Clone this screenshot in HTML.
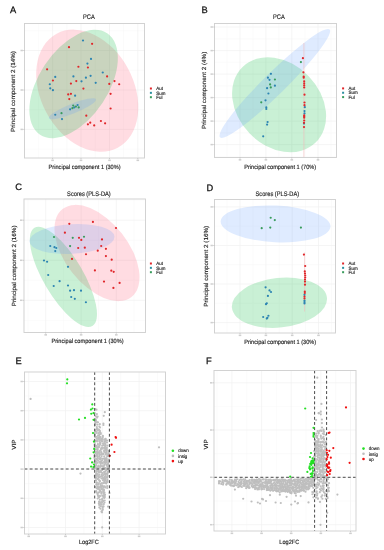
<!DOCTYPE html>
<html><head><meta charset="utf-8"><style>
html,body{margin:0;padding:0;background:#fff;}
svg{display:block;will-change:transform;}
</style></head><body>
<svg width="384" height="550" viewBox="0 0 384 550" font-family="Liberation Sans, sans-serif" text-rendering="geometricPrecision">
<g>
<rect width="384" height="550" fill="#fff"/>
<rect x="24.5" y="23.5" width="120.0" height="134.5" fill="#fff"/>
<line x1="38.40" y1="23.5" x2="38.40" y2="158.0" stroke="#f6f6f6" stroke-width="0.5"/>
<line x1="66.80" y1="23.5" x2="66.80" y2="158.0" stroke="#f6f6f6" stroke-width="0.5"/>
<line x1="95.30" y1="23.5" x2="95.30" y2="158.0" stroke="#f6f6f6" stroke-width="0.5"/>
<line x1="123.60" y1="23.5" x2="123.60" y2="158.0" stroke="#f6f6f6" stroke-width="0.5"/>
<line x1="24.5" y1="30.75" x2="144.5" y2="30.75" stroke="#f6f6f6" stroke-width="0.5"/>
<line x1="24.5" y1="70.25" x2="144.5" y2="70.25" stroke="#f6f6f6" stroke-width="0.5"/>
<line x1="24.5" y1="109.65" x2="144.5" y2="109.65" stroke="#f6f6f6" stroke-width="0.5"/>
<line x1="24.5" y1="149.15" x2="144.5" y2="149.15" stroke="#f6f6f6" stroke-width="0.5"/>
<line x1="52.60" y1="23.5" x2="52.60" y2="158.0" stroke="#f0f0f0" stroke-width="0.7"/>
<line x1="81.00" y1="23.5" x2="81.00" y2="158.0" stroke="#f0f0f0" stroke-width="0.7"/>
<line x1="109.50" y1="23.5" x2="109.50" y2="158.0" stroke="#f0f0f0" stroke-width="0.7"/>
<line x1="137.80" y1="23.5" x2="137.80" y2="158.0" stroke="#f0f0f0" stroke-width="0.7"/>
<line x1="24.5" y1="50.50" x2="144.5" y2="50.50" stroke="#f0f0f0" stroke-width="0.7"/>
<line x1="24.5" y1="90.00" x2="144.5" y2="90.00" stroke="#f0f0f0" stroke-width="0.7"/>
<line x1="24.5" y1="129.40" x2="144.5" y2="129.40" stroke="#f0f0f0" stroke-width="0.7"/>
<g>
<ellipse cx="87.23" cy="90.68" rx="46.4" ry="64.66" transform="rotate(151.81 87.23 90.68)" fill="#FF5A78" fill-opacity="0.21"/>
<ellipse cx="73.6" cy="84.0" rx="60.8" ry="34.6" transform="rotate(-56.5 73.6 84.0)" fill="#00BA38" fill-opacity="0.21"/>
<ellipse cx="72.4" cy="108.7" rx="4.9" ry="25.4" transform="rotate(68.0 72.4 108.7)" fill="#619CFF" fill-opacity="0.2"/>
</g>
<circle cx="69.00" cy="47.20" r="1.1" fill="#e0262a"/>
<circle cx="47.10" cy="69.30" r="1.1" fill="#e0262a"/>
<circle cx="78.40" cy="66.75" r="1.1" fill="#e0262a"/>
<circle cx="52.90" cy="80.50" r="1.1" fill="#e0262a"/>
<circle cx="76.30" cy="81.10" r="1.1" fill="#e0262a"/>
<circle cx="70.90" cy="83.60" r="1.1" fill="#e0262a"/>
<circle cx="83.40" cy="88.60" r="1.1" fill="#e0262a"/>
<circle cx="92.10" cy="43.80" r="1.1" fill="#e0262a"/>
<circle cx="87.90" cy="67.50" r="1.1" fill="#e0262a"/>
<circle cx="107.10" cy="76.40" r="1.1" fill="#e0262a"/>
<circle cx="109.30" cy="83.90" r="1.1" fill="#e0262a"/>
<circle cx="114.50" cy="81.10" r="1.1" fill="#e0262a"/>
<circle cx="119.20" cy="84.25" r="1.1" fill="#e0262a"/>
<circle cx="68.20" cy="94.40" r="1.1" fill="#e0262a"/>
<circle cx="70.90" cy="93.80" r="1.1" fill="#e0262a"/>
<circle cx="69.30" cy="99.10" r="1.1" fill="#e0262a"/>
<circle cx="110.60" cy="93.80" r="1.1" fill="#e0262a"/>
<circle cx="110.60" cy="108.50" r="1.1" fill="#e0262a"/>
<circle cx="86.30" cy="115.70" r="1.1" fill="#e0262a"/>
<circle cx="87.90" cy="124.30" r="1.1" fill="#e0262a"/>
<circle cx="90.25" cy="122.70" r="1.1" fill="#e0262a"/>
<circle cx="94.20" cy="125.40" r="1.1" fill="#e0262a"/>
<circle cx="100.90" cy="121.00" r="1.1" fill="#e0262a"/>
<circle cx="105.10" cy="123.30" r="1.1" fill="#e0262a"/>
<circle cx="83.00" cy="40.50" r="1.1" fill="#2c84b2"/>
<circle cx="55.25" cy="76.90" r="1.1" fill="#2c84b2"/>
<circle cx="73.40" cy="76.40" r="1.1" fill="#2c84b2"/>
<circle cx="81.50" cy="81.30" r="1.1" fill="#2c84b2"/>
<circle cx="49.80" cy="84.25" r="1.1" fill="#2c84b2"/>
<circle cx="50.25" cy="88.30" r="1.1" fill="#2c84b2"/>
<circle cx="52.90" cy="90.20" r="1.1" fill="#2c84b2"/>
<circle cx="91.00" cy="58.90" r="1.1" fill="#2c84b2"/>
<circle cx="87.40" cy="63.60" r="1.1" fill="#2c84b2"/>
<circle cx="102.75" cy="72.50" r="1.1" fill="#2c84b2"/>
<circle cx="90.60" cy="75.80" r="1.1" fill="#2c84b2"/>
<circle cx="85.90" cy="77.70" r="1.1" fill="#2c84b2"/>
<circle cx="95.70" cy="82.80" r="1.1" fill="#2c84b2"/>
<circle cx="75.10" cy="95.70" r="1.1" fill="#2c84b2"/>
<circle cx="77.60" cy="105.00" r="1.1" fill="#2c84b2"/>
<circle cx="70.10" cy="109.30" r="1.1" fill="#2c84b2"/>
<circle cx="74.20" cy="107.40" r="1.1" fill="#2c84b2"/>
<circle cx="55.25" cy="114.75" r="1.1" fill="#2c84b2"/>
<circle cx="62.00" cy="119.10" r="1.1" fill="#2c84b2"/>
<circle cx="73.20" cy="105.50" r="1.1" fill="#389c5c"/>
<circle cx="75.90" cy="106.60" r="1.1" fill="#389c5c"/>
<circle cx="78.70" cy="107.40" r="1.1" fill="#389c5c"/>
<circle cx="72.40" cy="108.20" r="1.1" fill="#389c5c"/>
<circle cx="61.50" cy="113.20" r="1.1" fill="#389c5c"/>
<rect x="24.5" y="23.5" width="120.0" height="134.5" fill="none" stroke="#d0d0d0" stroke-width="0.95"/>
<line x1="52.60" y1="158.0" x2="52.60" y2="159.3" stroke="#aaa" stroke-width="0.5"/>
<rect x="51.30" y="159.6" width="2.6" height="1.5" fill="#cfcfcf"/>
<line x1="81.00" y1="158.0" x2="81.00" y2="159.3" stroke="#aaa" stroke-width="0.5"/>
<rect x="79.70" y="159.6" width="2.6" height="1.5" fill="#cfcfcf"/>
<line x1="109.50" y1="158.0" x2="109.50" y2="159.3" stroke="#aaa" stroke-width="0.5"/>
<rect x="108.20" y="159.6" width="2.6" height="1.5" fill="#cfcfcf"/>
<line x1="137.80" y1="158.0" x2="137.80" y2="159.3" stroke="#aaa" stroke-width="0.5"/>
<rect x="136.50" y="159.6" width="2.6" height="1.5" fill="#cfcfcf"/>
<line x1="23.1" y1="50.50" x2="24.5" y2="50.50" stroke="#aaa" stroke-width="0.5"/>
<rect x="20.50" y="49.75" width="2.4" height="1.5" fill="#cfcfcf"/>
<line x1="23.1" y1="90.00" x2="24.5" y2="90.00" stroke="#aaa" stroke-width="0.5"/>
<rect x="20.50" y="89.25" width="2.4" height="1.5" fill="#cfcfcf"/>
<line x1="23.1" y1="129.40" x2="24.5" y2="129.40" stroke="#aaa" stroke-width="0.5"/>
<rect x="20.50" y="128.65" width="2.4" height="1.5" fill="#cfcfcf"/>
<text x="0" y="0" font-size="9.3" text-anchor="start" fill="#111" stroke="#111" stroke-width="0.25" transform="translate(10.1 12.6) scale(1.0 1)" >A</text>
<text x="0" y="0" font-size="6.6" text-anchor="middle" fill="#222" stroke="#222" stroke-width="0.15" transform="translate(88.9 19.1) scale(0.863 1)" >PCA</text>
<text x="0" y="0" font-size="6.2" text-anchor="middle" fill="#222" stroke="#222" stroke-width="0.15" transform="translate(84.6 168.6) scale(0.906 1)" >Principal component 1 (30%)</text>
<text x="0" y="0" font-size="6.3" text-anchor="middle" fill="#222" stroke="#222" stroke-width="0.15" transform="translate(15.4 91.5) scale(0.94 1) rotate(-90)" >Principal component 2 (14%)</text>
<rect x="149.9" y="87.5" width="2.0" height="2.0" fill="#e0262a"/>
<text x="0" y="0" font-size="4.8" text-anchor="start" fill="#1a1a1a" stroke="#1a1a1a" stroke-width="0.15" transform="translate(156.3 90.2) scale(0.92 1)" >Aut</text>
<rect x="149.9" y="91.85" width="2.0" height="2.0" fill="#2a8fa0"/>
<text x="0" y="0" font-size="4.8" text-anchor="start" fill="#1a1a1a" stroke="#1a1a1a" stroke-width="0.15" transform="translate(156.3 94.55) scale(0.92 1)" >Sum</text>
<rect x="149.9" y="96.2" width="2.0" height="2.0" fill="#389c5c"/>
<text x="0" y="0" font-size="4.8" text-anchor="start" fill="#1a1a1a" stroke="#1a1a1a" stroke-width="0.15" transform="translate(156.3 98.9) scale(0.92 1)" >Ful</text>
<rect x="214.5" y="23.5" width="122.0" height="134.0" fill="#fff"/>
<line x1="227.05" y1="23.5" x2="227.05" y2="157.5" stroke="#f6f6f6" stroke-width="0.5"/>
<line x1="252.95" y1="23.5" x2="252.95" y2="157.5" stroke="#f6f6f6" stroke-width="0.5"/>
<line x1="278.85" y1="23.5" x2="278.85" y2="157.5" stroke="#f6f6f6" stroke-width="0.5"/>
<line x1="305.05" y1="23.5" x2="305.05" y2="157.5" stroke="#f6f6f6" stroke-width="0.5"/>
<line x1="330.95" y1="23.5" x2="330.95" y2="157.5" stroke="#f6f6f6" stroke-width="0.5"/>
<line x1="214.5" y1="38.80" x2="336.5" y2="38.80" stroke="#f6f6f6" stroke-width="0.5"/>
<line x1="214.5" y1="62.30" x2="336.5" y2="62.30" stroke="#f6f6f6" stroke-width="0.5"/>
<line x1="214.5" y1="85.80" x2="336.5" y2="85.80" stroke="#f6f6f6" stroke-width="0.5"/>
<line x1="214.5" y1="109.30" x2="336.5" y2="109.30" stroke="#f6f6f6" stroke-width="0.5"/>
<line x1="214.5" y1="132.80" x2="336.5" y2="132.80" stroke="#f6f6f6" stroke-width="0.5"/>
<line x1="214.5" y1="156.40" x2="336.5" y2="156.40" stroke="#f6f6f6" stroke-width="0.5"/>
<line x1="240.00" y1="23.5" x2="240.00" y2="157.5" stroke="#f0f0f0" stroke-width="0.7"/>
<line x1="265.90" y1="23.5" x2="265.90" y2="157.5" stroke="#f0f0f0" stroke-width="0.7"/>
<line x1="291.80" y1="23.5" x2="291.80" y2="157.5" stroke="#f0f0f0" stroke-width="0.7"/>
<line x1="318.00" y1="23.5" x2="318.00" y2="157.5" stroke="#f0f0f0" stroke-width="0.7"/>
<line x1="214.5" y1="27.00" x2="336.5" y2="27.00" stroke="#f0f0f0" stroke-width="0.7"/>
<line x1="214.5" y1="50.60" x2="336.5" y2="50.60" stroke="#f0f0f0" stroke-width="0.7"/>
<line x1="214.5" y1="74.10" x2="336.5" y2="74.10" stroke="#f0f0f0" stroke-width="0.7"/>
<line x1="214.5" y1="97.60" x2="336.5" y2="97.60" stroke="#f0f0f0" stroke-width="0.7"/>
<line x1="214.5" y1="121.10" x2="336.5" y2="121.10" stroke="#f0f0f0" stroke-width="0.7"/>
<line x1="214.5" y1="144.60" x2="336.5" y2="144.60" stroke="#f0f0f0" stroke-width="0.7"/>
<ellipse cx="279.09" cy="104.76" rx="52.59" ry="41.17" transform="rotate(-133.98 279.09 104.76)" fill="#00BA38" fill-opacity="0.21"/>
<ellipse cx="274.82" cy="83.41" rx="10.94" ry="76.9" transform="rotate(45.48 274.82 83.41)" fill="#619CFF" fill-opacity="0.2"/>
<line x1="303.9" y1="43" x2="303.9" y2="157.5" stroke="#f0b8b8" stroke-width="0.6"/>
<circle cx="270.90" cy="73.80" r="1.1" fill="#2c84b2"/>
<circle cx="267.90" cy="77.70" r="1.1" fill="#2c84b2"/>
<circle cx="269.50" cy="79.80" r="1.1" fill="#2c84b2"/>
<circle cx="274.90" cy="85.70" r="1.1" fill="#2c84b2"/>
<circle cx="267.10" cy="88.20" r="1.1" fill="#2c84b2"/>
<circle cx="268.40" cy="93.50" r="1.1" fill="#2c84b2"/>
<circle cx="265.50" cy="100.30" r="1.1" fill="#2c84b2"/>
<circle cx="266.30" cy="107.40" r="1.1" fill="#2c84b2"/>
<circle cx="266.30" cy="109.00" r="1.1" fill="#2c84b2"/>
<circle cx="267.60" cy="122.00" r="1.1" fill="#2c84b2"/>
<circle cx="267.10" cy="124.60" r="1.1" fill="#2c84b2"/>
<circle cx="263.20" cy="136.30" r="1.1" fill="#2c84b2"/>
<circle cx="304.80" cy="107.20" r="1.1" fill="#2c84b2"/>
<circle cx="304.50" cy="111.10" r="1.1" fill="#2c84b2"/>
<circle cx="304.50" cy="113.40" r="1.1" fill="#2c84b2"/>
<circle cx="304.00" cy="123.60" r="1.1" fill="#2c84b2"/>
<circle cx="274.90" cy="79.50" r="1.1" fill="#389c5c"/>
<circle cx="270.10" cy="84.40" r="1.1" fill="#389c5c"/>
<circle cx="270.80" cy="87.40" r="1.1" fill="#389c5c"/>
<circle cx="261.25" cy="102.30" r="1.1" fill="#389c5c"/>
<circle cx="300.90" cy="62.10" r="1.1" fill="#389c5c"/>
<circle cx="302.90" cy="58.20" r="1.1" fill="#e0262a"/>
<circle cx="303.40" cy="72.30" r="1.1" fill="#e0262a"/>
<circle cx="303.70" cy="76.60" r="1.1" fill="#e0262a"/>
<circle cx="303.70" cy="77.70" r="1.1" fill="#e0262a"/>
<circle cx="304.20" cy="81.25" r="1.1" fill="#e0262a"/>
<circle cx="304.20" cy="83.30" r="1.1" fill="#e0262a"/>
<circle cx="304.20" cy="85.40" r="1.1" fill="#e0262a"/>
<circle cx="304.20" cy="87.50" r="1.1" fill="#e0262a"/>
<circle cx="304.50" cy="94.70" r="1.1" fill="#e0262a"/>
<circle cx="304.50" cy="102.50" r="1.1" fill="#e0262a"/>
<circle cx="304.50" cy="105.20" r="1.1" fill="#e0262a"/>
<circle cx="304.20" cy="115.40" r="1.1" fill="#e0262a"/>
<circle cx="304.20" cy="116.50" r="1.1" fill="#e0262a"/>
<circle cx="304.20" cy="117.70" r="1.1" fill="#e0262a"/>
<circle cx="304.20" cy="120.50" r="1.1" fill="#e0262a"/>
<circle cx="304.00" cy="122.80" r="1.1" fill="#e0262a"/>
<circle cx="304.00" cy="127.10" r="1.1" fill="#e0262a"/>
<rect x="214.5" y="23.5" width="122.0" height="134.0" fill="none" stroke="#d0d0d0" stroke-width="0.95"/>
<line x1="240.00" y1="157.5" x2="240.00" y2="158.8" stroke="#aaa" stroke-width="0.5"/>
<rect x="238.70" y="159.1" width="2.6" height="1.5" fill="#cfcfcf"/>
<line x1="265.90" y1="157.5" x2="265.90" y2="158.8" stroke="#aaa" stroke-width="0.5"/>
<rect x="264.60" y="159.1" width="2.6" height="1.5" fill="#cfcfcf"/>
<line x1="291.80" y1="157.5" x2="291.80" y2="158.8" stroke="#aaa" stroke-width="0.5"/>
<rect x="290.50" y="159.1" width="2.6" height="1.5" fill="#cfcfcf"/>
<line x1="318.00" y1="157.5" x2="318.00" y2="158.8" stroke="#aaa" stroke-width="0.5"/>
<rect x="316.70" y="159.1" width="2.6" height="1.5" fill="#cfcfcf"/>
<line x1="213.1" y1="27.00" x2="214.5" y2="27.00" stroke="#aaa" stroke-width="0.5"/>
<rect x="210.50" y="26.25" width="2.4" height="1.5" fill="#cfcfcf"/>
<line x1="213.1" y1="50.60" x2="214.5" y2="50.60" stroke="#aaa" stroke-width="0.5"/>
<rect x="210.50" y="49.85" width="2.4" height="1.5" fill="#cfcfcf"/>
<line x1="213.1" y1="74.10" x2="214.5" y2="74.10" stroke="#aaa" stroke-width="0.5"/>
<rect x="210.50" y="73.35" width="2.4" height="1.5" fill="#cfcfcf"/>
<line x1="213.1" y1="97.60" x2="214.5" y2="97.60" stroke="#aaa" stroke-width="0.5"/>
<rect x="210.50" y="96.85" width="2.4" height="1.5" fill="#cfcfcf"/>
<line x1="213.1" y1="121.10" x2="214.5" y2="121.10" stroke="#aaa" stroke-width="0.5"/>
<rect x="210.50" y="120.35" width="2.4" height="1.5" fill="#cfcfcf"/>
<line x1="213.1" y1="144.60" x2="214.5" y2="144.60" stroke="#aaa" stroke-width="0.5"/>
<rect x="210.50" y="143.85" width="2.4" height="1.5" fill="#cfcfcf"/>
<text x="0" y="0" font-size="9.3" text-anchor="start" fill="#111" stroke="#111" stroke-width="0.25" transform="translate(201.5 12.6) scale(1.0 1)" >B</text>
<text x="0" y="0" font-size="6.6" text-anchor="middle" fill="#222" stroke="#222" stroke-width="0.15" transform="translate(278.9 19.1) scale(0.863 1)" >PCA</text>
<text x="0" y="0" font-size="6.2" text-anchor="middle" fill="#222" stroke="#222" stroke-width="0.15" transform="translate(280.15 168.6) scale(0.906 1)" >Principal component 1 (70%)</text>
<text x="0" y="0" font-size="6.3" text-anchor="middle" fill="#222" stroke="#222" stroke-width="0.15" transform="translate(205.8 90.4) scale(0.94 1) rotate(-90)" >Principal component 2 (4%)</text>
<rect x="342.1" y="87.4" width="2.0" height="2.0" fill="#e0262a"/>
<text x="0" y="0" font-size="4.8" text-anchor="start" fill="#1a1a1a" stroke="#1a1a1a" stroke-width="0.15" transform="translate(348.5 90.10000000000001) scale(0.92 1)" >Aut</text>
<rect x="342.1" y="91.75" width="2.0" height="2.0" fill="#2a8fa0"/>
<text x="0" y="0" font-size="4.8" text-anchor="start" fill="#1a1a1a" stroke="#1a1a1a" stroke-width="0.15" transform="translate(348.5 94.45) scale(0.92 1)" >Sum</text>
<rect x="342.1" y="96.10000000000001" width="2.0" height="2.0" fill="#389c5c"/>
<text x="0" y="0" font-size="4.8" text-anchor="start" fill="#1a1a1a" stroke="#1a1a1a" stroke-width="0.15" transform="translate(348.5 98.80000000000001) scale(0.92 1)" >Ful</text>
<rect x="24.0" y="199.0" width="121.5" height="133.5" fill="#fff"/>
<line x1="28.00" y1="199.0" x2="28.00" y2="332.5" stroke="#f6f6f6" stroke-width="0.5"/>
<line x1="63.40" y1="199.0" x2="63.40" y2="332.5" stroke="#f6f6f6" stroke-width="0.5"/>
<line x1="98.60" y1="199.0" x2="98.60" y2="332.5" stroke="#f6f6f6" stroke-width="0.5"/>
<line x1="134.00" y1="199.0" x2="134.00" y2="332.5" stroke="#f6f6f6" stroke-width="0.5"/>
<line x1="24.0" y1="200.15" x2="145.5" y2="200.15" stroke="#f6f6f6" stroke-width="0.5"/>
<line x1="24.0" y1="240.25" x2="145.5" y2="240.25" stroke="#f6f6f6" stroke-width="0.5"/>
<line x1="24.0" y1="280.25" x2="145.5" y2="280.25" stroke="#f6f6f6" stroke-width="0.5"/>
<line x1="24.0" y1="320.35" x2="145.5" y2="320.35" stroke="#f6f6f6" stroke-width="0.5"/>
<line x1="45.70" y1="199.0" x2="45.70" y2="332.5" stroke="#f0f0f0" stroke-width="0.7"/>
<line x1="81.10" y1="199.0" x2="81.10" y2="332.5" stroke="#f0f0f0" stroke-width="0.7"/>
<line x1="116.30" y1="199.0" x2="116.30" y2="332.5" stroke="#f0f0f0" stroke-width="0.7"/>
<line x1="24.0" y1="220.20" x2="145.5" y2="220.20" stroke="#f0f0f0" stroke-width="0.7"/>
<line x1="24.0" y1="260.30" x2="145.5" y2="260.30" stroke="#f0f0f0" stroke-width="0.7"/>
<line x1="24.0" y1="300.30" x2="145.5" y2="300.30" stroke="#f0f0f0" stroke-width="0.7"/>
<ellipse cx="97.0" cy="253.0" rx="55.9" ry="31.6" transform="rotate(-128.07 97.0 253.0)" fill="#FF5A78" fill-opacity="0.21"/>
<ellipse cx="63.4" cy="276.9" rx="57.0" ry="19.8" transform="rotate(-120.51 63.4 276.9)" fill="#00BA38" fill-opacity="0.21"/>
<ellipse cx="71.96" cy="239.0" rx="14.8" ry="42.6" transform="rotate(86.69 71.96 239.0)" fill="#619CFF" fill-opacity="0.2"/>
<circle cx="69.30" cy="223.80" r="1.1" fill="#e0262a"/>
<circle cx="64.90" cy="232.70" r="1.1" fill="#e0262a"/>
<circle cx="79.00" cy="237.80" r="1.1" fill="#e0262a"/>
<circle cx="81.30" cy="239.90" r="1.1" fill="#e0262a"/>
<circle cx="78.20" cy="248.00" r="1.1" fill="#e0262a"/>
<circle cx="72.00" cy="258.90" r="1.1" fill="#e0262a"/>
<circle cx="92.90" cy="221.90" r="1.1" fill="#e0262a"/>
<circle cx="116.00" cy="228.00" r="1.1" fill="#e0262a"/>
<circle cx="102.00" cy="239.40" r="1.1" fill="#e0262a"/>
<circle cx="101.20" cy="246.00" r="1.1" fill="#e0262a"/>
<circle cx="105.90" cy="248.80" r="1.1" fill="#e0262a"/>
<circle cx="97.75" cy="250.70" r="1.1" fill="#e0262a"/>
<circle cx="84.80" cy="247.70" r="1.1" fill="#e0262a"/>
<circle cx="86.00" cy="254.25" r="1.1" fill="#e0262a"/>
<circle cx="105.90" cy="256.10" r="1.1" fill="#e0262a"/>
<circle cx="111.70" cy="259.70" r="1.1" fill="#e0262a"/>
<circle cx="94.90" cy="270.40" r="1.1" fill="#e0262a"/>
<circle cx="111.30" cy="270.70" r="1.1" fill="#e0262a"/>
<circle cx="113.70" cy="271.80" r="1.1" fill="#e0262a"/>
<circle cx="104.00" cy="281.60" r="1.1" fill="#e0262a"/>
<circle cx="119.60" cy="282.90" r="1.1" fill="#e0262a"/>
<circle cx="113.40" cy="287.90" r="1.1" fill="#e0262a"/>
<circle cx="50.25" cy="246.00" r="1.1" fill="#2c84b2"/>
<circle cx="54.50" cy="247.20" r="1.1" fill="#2c84b2"/>
<circle cx="56.30" cy="248.00" r="1.1" fill="#2c84b2"/>
<circle cx="55.25" cy="251.10" r="1.1" fill="#2c84b2"/>
<circle cx="44.00" cy="260.50" r="1.1" fill="#2c84b2"/>
<circle cx="47.10" cy="261.75" r="1.1" fill="#2c84b2"/>
<circle cx="68.00" cy="266.80" r="1.1" fill="#2c84b2"/>
<circle cx="48.20" cy="275.00" r="1.1" fill="#2c84b2"/>
<circle cx="59.60" cy="281.20" r="1.1" fill="#2c84b2"/>
<circle cx="53.70" cy="286.00" r="1.1" fill="#2c84b2"/>
<circle cx="68.00" cy="285.50" r="1.1" fill="#2c84b2"/>
<circle cx="70.10" cy="290.70" r="1.1" fill="#2c84b2"/>
<circle cx="74.00" cy="290.20" r="1.1" fill="#2c84b2"/>
<circle cx="81.00" cy="290.70" r="1.1" fill="#2c84b2"/>
<circle cx="71.20" cy="297.00" r="1.1" fill="#2c84b2"/>
<circle cx="74.80" cy="298.80" r="1.1" fill="#2c84b2"/>
<circle cx="85.90" cy="302.25" r="1.1" fill="#2c84b2"/>
<circle cx="54.00" cy="237.00" r="1.1" fill="#389c5c"/>
<circle cx="72.75" cy="237.80" r="1.1" fill="#389c5c"/>
<circle cx="70.10" cy="246.10" r="1.1" fill="#389c5c"/>
<circle cx="84.00" cy="236.75" r="1.1" fill="#389c5c"/>
<rect x="24.0" y="199.0" width="121.5" height="133.5" fill="none" stroke="#d0d0d0" stroke-width="0.95"/>
<line x1="45.70" y1="332.5" x2="45.70" y2="333.8" stroke="#aaa" stroke-width="0.5"/>
<rect x="44.40" y="334.1" width="2.6" height="1.5" fill="#cfcfcf"/>
<line x1="81.10" y1="332.5" x2="81.10" y2="333.8" stroke="#aaa" stroke-width="0.5"/>
<rect x="79.80" y="334.1" width="2.6" height="1.5" fill="#cfcfcf"/>
<line x1="116.30" y1="332.5" x2="116.30" y2="333.8" stroke="#aaa" stroke-width="0.5"/>
<rect x="115.00" y="334.1" width="2.6" height="1.5" fill="#cfcfcf"/>
<line x1="22.6" y1="220.20" x2="24.0" y2="220.20" stroke="#aaa" stroke-width="0.5"/>
<rect x="20.00" y="219.45" width="2.4" height="1.5" fill="#cfcfcf"/>
<line x1="22.6" y1="260.30" x2="24.0" y2="260.30" stroke="#aaa" stroke-width="0.5"/>
<rect x="20.00" y="259.55" width="2.4" height="1.5" fill="#cfcfcf"/>
<line x1="22.6" y1="300.30" x2="24.0" y2="300.30" stroke="#aaa" stroke-width="0.5"/>
<rect x="20.00" y="299.55" width="2.4" height="1.5" fill="#cfcfcf"/>
<text x="0" y="0" font-size="9.3" text-anchor="start" fill="#111" stroke="#111" stroke-width="0.25" transform="translate(15.2 190.3) scale(1.0 1)" >C</text>
<text x="0" y="0" font-size="6.6" text-anchor="middle" fill="#222" stroke="#222" stroke-width="0.15" transform="translate(88.9 195.6) scale(0.863 1)" >Scores (PLS-DA)</text>
<text x="0" y="0" font-size="6.2" text-anchor="middle" fill="#222" stroke="#222" stroke-width="0.15" transform="translate(87.5 343) scale(0.906 1)" >Principal component 1 (30%)</text>
<text x="0" y="0" font-size="6.3" text-anchor="middle" fill="#222" stroke="#222" stroke-width="0.15" transform="translate(15.9 265.9) scale(0.94 1) rotate(-90)" >Principal component 2 (16%)</text>
<rect x="149.9" y="262.5" width="2.0" height="2.0" fill="#e0262a"/>
<text x="0" y="0" font-size="4.8" text-anchor="start" fill="#1a1a1a" stroke="#1a1a1a" stroke-width="0.15" transform="translate(156.3 265.2) scale(0.92 1)" >Aut</text>
<rect x="149.9" y="266.85" width="2.0" height="2.0" fill="#2a8fa0"/>
<text x="0" y="0" font-size="4.8" text-anchor="start" fill="#1a1a1a" stroke="#1a1a1a" stroke-width="0.15" transform="translate(156.3 269.55) scale(0.92 1)" >Sum</text>
<rect x="149.9" y="271.2" width="2.0" height="2.0" fill="#389c5c"/>
<text x="0" y="0" font-size="4.8" text-anchor="start" fill="#1a1a1a" stroke="#1a1a1a" stroke-width="0.15" transform="translate(156.3 273.9) scale(0.92 1)" >Ful</text>
<rect x="214.5" y="199.5" width="121.0" height="133.5" fill="#fff"/>
<line x1="227.05" y1="199.5" x2="227.05" y2="333.0" stroke="#f6f6f6" stroke-width="0.5"/>
<line x1="252.95" y1="199.5" x2="252.95" y2="333.0" stroke="#f6f6f6" stroke-width="0.5"/>
<line x1="279.25" y1="199.5" x2="279.25" y2="333.0" stroke="#f6f6f6" stroke-width="0.5"/>
<line x1="305.55" y1="199.5" x2="305.55" y2="333.0" stroke="#f6f6f6" stroke-width="0.5"/>
<line x1="331.45" y1="199.5" x2="331.45" y2="333.0" stroke="#f6f6f6" stroke-width="0.5"/>
<line x1="214.5" y1="226.20" x2="335.5" y2="226.20" stroke="#f6f6f6" stroke-width="0.5"/>
<line x1="214.5" y1="264.70" x2="335.5" y2="264.70" stroke="#f6f6f6" stroke-width="0.5"/>
<line x1="214.5" y1="303.30" x2="335.5" y2="303.30" stroke="#f6f6f6" stroke-width="0.5"/>
<line x1="240.00" y1="199.5" x2="240.00" y2="333.0" stroke="#f0f0f0" stroke-width="0.7"/>
<line x1="265.90" y1="199.5" x2="265.90" y2="333.0" stroke="#f0f0f0" stroke-width="0.7"/>
<line x1="292.20" y1="199.5" x2="292.20" y2="333.0" stroke="#f0f0f0" stroke-width="0.7"/>
<line x1="318.50" y1="199.5" x2="318.50" y2="333.0" stroke="#f0f0f0" stroke-width="0.7"/>
<line x1="214.5" y1="206.90" x2="335.5" y2="206.90" stroke="#f0f0f0" stroke-width="0.7"/>
<line x1="214.5" y1="245.50" x2="335.5" y2="245.50" stroke="#f0f0f0" stroke-width="0.7"/>
<line x1="214.5" y1="284.00" x2="335.5" y2="284.00" stroke="#f0f0f0" stroke-width="0.7"/>
<line x1="214.5" y1="322.60" x2="335.5" y2="322.60" stroke="#f0f0f0" stroke-width="0.7"/>
<ellipse cx="275.6" cy="223.9" rx="18.3" ry="55.0" transform="rotate(92.8 275.6 223.9)" fill="#619CFF" fill-opacity="0.2"/>
<ellipse cx="279.43" cy="302.7" rx="24.8" ry="47.8" transform="rotate(83.83 279.43 302.7)" fill="#00BA38" fill-opacity="0.21"/>
<line x1="304.6" y1="252.5" x2="304.6" y2="311.6" stroke="#f0b8b8" stroke-width="0.6"/>
<circle cx="270.70" cy="217.75" r="1.1" fill="#389c5c"/>
<circle cx="261.70" cy="228.20" r="1.1" fill="#389c5c"/>
<circle cx="270.25" cy="227.60" r="1.1" fill="#389c5c"/>
<circle cx="274.80" cy="220.10" r="1.1" fill="#389c5c"/>
<circle cx="300.90" cy="227.60" r="1.1" fill="#389c5c"/>
<circle cx="265.60" cy="287.30" r="1.1" fill="#2c84b2"/>
<circle cx="269.50" cy="290.40" r="1.1" fill="#2c84b2"/>
<circle cx="271.00" cy="292.00" r="1.1" fill="#2c84b2"/>
<circle cx="267.90" cy="295.90" r="1.1" fill="#2c84b2"/>
<circle cx="266.80" cy="303.25" r="1.1" fill="#2c84b2"/>
<circle cx="266.00" cy="304.20" r="1.1" fill="#2c84b2"/>
<circle cx="263.20" cy="317.00" r="1.1" fill="#2c84b2"/>
<circle cx="268.40" cy="315.75" r="1.1" fill="#2c84b2"/>
<circle cx="267.40" cy="317.80" r="1.1" fill="#2c84b2"/>
<circle cx="266.80" cy="318.60" r="1.1" fill="#2c84b2"/>
<circle cx="304.50" cy="294.80" r="1.1" fill="#2c84b2"/>
<circle cx="304.50" cy="300.60" r="1.1" fill="#2c84b2"/>
<circle cx="304.50" cy="302.00" r="1.1" fill="#2c84b2"/>
<circle cx="304.50" cy="303.40" r="1.1" fill="#2c84b2"/>
<circle cx="303.90" cy="254.60" r="1.1" fill="#e0262a"/>
<circle cx="305.20" cy="266.00" r="1.1" fill="#e0262a"/>
<circle cx="304.80" cy="271.40" r="1.1" fill="#e0262a"/>
<circle cx="305.00" cy="273.50" r="1.1" fill="#e0262a"/>
<circle cx="305.20" cy="275.50" r="1.1" fill="#e0262a"/>
<circle cx="305.20" cy="277.50" r="1.1" fill="#e0262a"/>
<circle cx="305.00" cy="279.50" r="1.1" fill="#e0262a"/>
<circle cx="305.00" cy="281.60" r="1.1" fill="#e0262a"/>
<circle cx="305.00" cy="284.70" r="1.1" fill="#e0262a"/>
<circle cx="304.80" cy="291.60" r="1.1" fill="#e0262a"/>
<circle cx="304.80" cy="293.00" r="1.1" fill="#e0262a"/>
<circle cx="304.50" cy="296.70" r="1.1" fill="#e0262a"/>
<circle cx="304.50" cy="298.50" r="1.1" fill="#e0262a"/>
<rect x="214.5" y="199.5" width="121.0" height="133.5" fill="none" stroke="#d0d0d0" stroke-width="0.95"/>
<line x1="240.00" y1="333.0" x2="240.00" y2="334.3" stroke="#aaa" stroke-width="0.5"/>
<rect x="238.70" y="334.6" width="2.6" height="1.5" fill="#cfcfcf"/>
<line x1="265.90" y1="333.0" x2="265.90" y2="334.3" stroke="#aaa" stroke-width="0.5"/>
<rect x="264.60" y="334.6" width="2.6" height="1.5" fill="#cfcfcf"/>
<line x1="292.20" y1="333.0" x2="292.20" y2="334.3" stroke="#aaa" stroke-width="0.5"/>
<rect x="290.90" y="334.6" width="2.6" height="1.5" fill="#cfcfcf"/>
<line x1="318.50" y1="333.0" x2="318.50" y2="334.3" stroke="#aaa" stroke-width="0.5"/>
<rect x="317.20" y="334.6" width="2.6" height="1.5" fill="#cfcfcf"/>
<line x1="213.1" y1="206.90" x2="214.5" y2="206.90" stroke="#aaa" stroke-width="0.5"/>
<rect x="210.50" y="206.15" width="2.4" height="1.5" fill="#cfcfcf"/>
<line x1="213.1" y1="245.50" x2="214.5" y2="245.50" stroke="#aaa" stroke-width="0.5"/>
<rect x="210.50" y="244.75" width="2.4" height="1.5" fill="#cfcfcf"/>
<line x1="213.1" y1="284.00" x2="214.5" y2="284.00" stroke="#aaa" stroke-width="0.5"/>
<rect x="210.50" y="283.25" width="2.4" height="1.5" fill="#cfcfcf"/>
<line x1="213.1" y1="322.60" x2="214.5" y2="322.60" stroke="#aaa" stroke-width="0.5"/>
<rect x="210.50" y="321.85" width="2.4" height="1.5" fill="#cfcfcf"/>
<text x="0" y="0" font-size="9.3" text-anchor="start" fill="#111" stroke="#111" stroke-width="0.25" transform="translate(206.5 190.9) scale(1.0 1)" >D</text>
<text x="0" y="0" font-size="6.6" text-anchor="middle" fill="#222" stroke="#222" stroke-width="0.15" transform="translate(277.35 195.6) scale(0.863 1)" >Scores (PLS-DA)</text>
<text x="0" y="0" font-size="6.2" text-anchor="middle" fill="#222" stroke="#222" stroke-width="0.15" transform="translate(280.15 343.8) scale(0.906 1)" >Principal component 1 (30%)</text>
<text x="0" y="0" font-size="6.3" text-anchor="middle" fill="#222" stroke="#222" stroke-width="0.15" transform="translate(207.9 266.35) scale(0.94 1) rotate(-90)" >Principal component 2 (16%)</text>
<rect x="342.1" y="262.5" width="2.0" height="2.0" fill="#e0262a"/>
<text x="0" y="0" font-size="4.8" text-anchor="start" fill="#1a1a1a" stroke="#1a1a1a" stroke-width="0.15" transform="translate(348.5 265.2) scale(0.92 1)" >Aut</text>
<rect x="342.1" y="266.85" width="2.0" height="2.0" fill="#2a8fa0"/>
<text x="0" y="0" font-size="4.8" text-anchor="start" fill="#1a1a1a" stroke="#1a1a1a" stroke-width="0.15" transform="translate(348.5 269.55) scale(0.92 1)" >Sum</text>
<rect x="342.1" y="271.2" width="2.0" height="2.0" fill="#389c5c"/>
<text x="0" y="0" font-size="4.8" text-anchor="start" fill="#1a1a1a" stroke="#1a1a1a" stroke-width="0.15" transform="translate(348.5 273.9) scale(0.92 1)" >Ful</text>
<rect x="24.5" y="372.0" width="141.0" height="162.0" fill="#fff"/>
<line x1="47.10" y1="372.0" x2="47.10" y2="534.0" stroke="#f6f6f6" stroke-width="0.5"/>
<line x1="83.90" y1="372.0" x2="83.90" y2="534.0" stroke="#f6f6f6" stroke-width="0.5"/>
<line x1="120.70" y1="372.0" x2="120.70" y2="534.0" stroke="#f6f6f6" stroke-width="0.5"/>
<line x1="157.50" y1="372.0" x2="157.50" y2="534.0" stroke="#f6f6f6" stroke-width="0.5"/>
<line x1="24.5" y1="396.10" x2="165.5" y2="396.10" stroke="#f6f6f6" stroke-width="0.5"/>
<line x1="24.5" y1="425.30" x2="165.5" y2="425.30" stroke="#f6f6f6" stroke-width="0.5"/>
<line x1="24.5" y1="454.50" x2="165.5" y2="454.50" stroke="#f6f6f6" stroke-width="0.5"/>
<line x1="24.5" y1="483.70" x2="165.5" y2="483.70" stroke="#f6f6f6" stroke-width="0.5"/>
<line x1="24.5" y1="512.90" x2="165.5" y2="512.90" stroke="#f6f6f6" stroke-width="0.5"/>
<line x1="28.70" y1="372.0" x2="28.70" y2="534.0" stroke="#f0f0f0" stroke-width="0.7"/>
<line x1="65.50" y1="372.0" x2="65.50" y2="534.0" stroke="#f0f0f0" stroke-width="0.7"/>
<line x1="102.30" y1="372.0" x2="102.30" y2="534.0" stroke="#f0f0f0" stroke-width="0.7"/>
<line x1="139.10" y1="372.0" x2="139.10" y2="534.0" stroke="#f0f0f0" stroke-width="0.7"/>
<line x1="24.5" y1="381.50" x2="165.5" y2="381.50" stroke="#f0f0f0" stroke-width="0.7"/>
<line x1="24.5" y1="410.70" x2="165.5" y2="410.70" stroke="#f0f0f0" stroke-width="0.7"/>
<line x1="24.5" y1="439.90" x2="165.5" y2="439.90" stroke="#f0f0f0" stroke-width="0.7"/>
<line x1="24.5" y1="469.10" x2="165.5" y2="469.10" stroke="#f0f0f0" stroke-width="0.7"/>
<line x1="24.5" y1="498.30" x2="165.5" y2="498.30" stroke="#f0f0f0" stroke-width="0.7"/>
<line x1="24.5" y1="527.50" x2="165.5" y2="527.50" stroke="#f0f0f0" stroke-width="0.7"/>
<circle cx="94.96" cy="409.03" r="1.1" fill="#bebebe"/>
<circle cx="96.46" cy="409.70" r="1.1" fill="#bebebe"/>
<circle cx="94.66" cy="412.74" r="1.1" fill="#bebebe"/>
<circle cx="96.86" cy="414.07" r="1.1" fill="#bebebe"/>
<circle cx="95.90" cy="416.45" r="1.1" fill="#bebebe"/>
<circle cx="97.66" cy="416.58" r="1.1" fill="#bebebe"/>
<circle cx="97.05" cy="417.55" r="1.1" fill="#bebebe"/>
<circle cx="95.53" cy="419.23" r="1.1" fill="#bebebe"/>
<circle cx="94.83" cy="420.10" r="1.1" fill="#bebebe"/>
<circle cx="95.98" cy="420.26" r="1.1" fill="#bebebe"/>
<circle cx="95.21" cy="421.81" r="1.1" fill="#bebebe"/>
<circle cx="96.88" cy="421.98" r="1.1" fill="#bebebe"/>
<circle cx="97.98" cy="422.25" r="1.1" fill="#bebebe"/>
<circle cx="95.57" cy="422.93" r="1.1" fill="#bebebe"/>
<circle cx="95.35" cy="424.84" r="1.1" fill="#bebebe"/>
<circle cx="97.46" cy="424.62" r="1.1" fill="#bebebe"/>
<circle cx="96.81" cy="427.02" r="1.1" fill="#bebebe"/>
<circle cx="99.33" cy="426.53" r="1.1" fill="#bebebe"/>
<circle cx="96.80" cy="428.36" r="1.1" fill="#bebebe"/>
<circle cx="100.03" cy="427.51" r="1.1" fill="#bebebe"/>
<circle cx="95.13" cy="430.00" r="1.1" fill="#bebebe"/>
<circle cx="97.01" cy="429.55" r="1.1" fill="#bebebe"/>
<circle cx="97.78" cy="429.11" r="1.1" fill="#bebebe"/>
<circle cx="99.08" cy="429.73" r="1.1" fill="#bebebe"/>
<circle cx="95.96" cy="431.58" r="1.1" fill="#bebebe"/>
<circle cx="97.89" cy="430.68" r="1.1" fill="#bebebe"/>
<circle cx="99.89" cy="430.95" r="1.1" fill="#bebebe"/>
<circle cx="94.47" cy="433.00" r="1.1" fill="#bebebe"/>
<circle cx="96.49" cy="432.91" r="1.1" fill="#bebebe"/>
<circle cx="98.28" cy="433.04" r="1.1" fill="#bebebe"/>
<circle cx="99.85" cy="432.03" r="1.1" fill="#bebebe"/>
<circle cx="100.58" cy="432.91" r="1.1" fill="#bebebe"/>
<circle cx="94.94" cy="434.60" r="1.1" fill="#bebebe"/>
<circle cx="99.49" cy="434.28" r="1.1" fill="#bebebe"/>
<circle cx="100.75" cy="433.88" r="1.1" fill="#bebebe"/>
<circle cx="94.85" cy="436.09" r="1.1" fill="#bebebe"/>
<circle cx="98.00" cy="435.31" r="1.1" fill="#bebebe"/>
<circle cx="99.23" cy="435.84" r="1.1" fill="#bebebe"/>
<circle cx="102.84" cy="435.83" r="1.1" fill="#bebebe"/>
<circle cx="95.20" cy="437.31" r="1.1" fill="#bebebe"/>
<circle cx="96.75" cy="436.74" r="1.1" fill="#bebebe"/>
<circle cx="98.32" cy="437.23" r="1.1" fill="#bebebe"/>
<circle cx="100.03" cy="437.18" r="1.1" fill="#bebebe"/>
<circle cx="100.41" cy="437.06" r="1.1" fill="#bebebe"/>
<circle cx="102.71" cy="436.96" r="1.1" fill="#bebebe"/>
<circle cx="96.86" cy="438.32" r="1.1" fill="#bebebe"/>
<circle cx="98.29" cy="438.89" r="1.1" fill="#bebebe"/>
<circle cx="99.91" cy="438.94" r="1.1" fill="#bebebe"/>
<circle cx="101.57" cy="439.05" r="1.1" fill="#bebebe"/>
<circle cx="102.54" cy="438.10" r="1.1" fill="#bebebe"/>
<circle cx="96.73" cy="440.26" r="1.1" fill="#bebebe"/>
<circle cx="97.61" cy="440.34" r="1.1" fill="#bebebe"/>
<circle cx="99.70" cy="439.90" r="1.1" fill="#bebebe"/>
<circle cx="101.33" cy="440.16" r="1.1" fill="#bebebe"/>
<circle cx="101.93" cy="439.59" r="1.1" fill="#bebebe"/>
<circle cx="104.18" cy="439.66" r="1.1" fill="#bebebe"/>
<circle cx="105.66" cy="439.45" r="1.1" fill="#bebebe"/>
<circle cx="94.67" cy="440.96" r="1.1" fill="#bebebe"/>
<circle cx="96.28" cy="441.12" r="1.1" fill="#bebebe"/>
<circle cx="97.44" cy="441.46" r="1.1" fill="#bebebe"/>
<circle cx="99.63" cy="441.61" r="1.1" fill="#bebebe"/>
<circle cx="101.48" cy="440.90" r="1.1" fill="#bebebe"/>
<circle cx="102.23" cy="441.39" r="1.1" fill="#bebebe"/>
<circle cx="104.40" cy="441.35" r="1.1" fill="#bebebe"/>
<circle cx="105.64" cy="441.01" r="1.1" fill="#bebebe"/>
<circle cx="94.81" cy="443.10" r="1.1" fill="#bebebe"/>
<circle cx="99.88" cy="443.17" r="1.1" fill="#bebebe"/>
<circle cx="100.57" cy="443.12" r="1.1" fill="#bebebe"/>
<circle cx="103.05" cy="443.56" r="1.1" fill="#bebebe"/>
<circle cx="103.82" cy="443.47" r="1.1" fill="#bebebe"/>
<circle cx="105.03" cy="443.08" r="1.1" fill="#bebebe"/>
<circle cx="94.57" cy="444.66" r="1.1" fill="#bebebe"/>
<circle cx="97.92" cy="444.17" r="1.1" fill="#bebebe"/>
<circle cx="100.07" cy="444.36" r="1.1" fill="#bebebe"/>
<circle cx="103.71" cy="445.08" r="1.1" fill="#bebebe"/>
<circle cx="105.40" cy="444.28" r="1.1" fill="#bebebe"/>
<circle cx="94.74" cy="445.97" r="1.1" fill="#bebebe"/>
<circle cx="96.65" cy="445.93" r="1.1" fill="#bebebe"/>
<circle cx="98.34" cy="446.39" r="1.1" fill="#bebebe"/>
<circle cx="99.54" cy="445.73" r="1.1" fill="#bebebe"/>
<circle cx="102.19" cy="445.72" r="1.1" fill="#bebebe"/>
<circle cx="104.59" cy="445.75" r="1.1" fill="#bebebe"/>
<circle cx="105.47" cy="446.17" r="1.1" fill="#bebebe"/>
<circle cx="107.29" cy="445.54" r="1.1" fill="#bebebe"/>
<circle cx="94.76" cy="447.54" r="1.1" fill="#bebebe"/>
<circle cx="96.26" cy="447.54" r="1.1" fill="#bebebe"/>
<circle cx="97.83" cy="447.79" r="1.1" fill="#bebebe"/>
<circle cx="98.94" cy="447.20" r="1.1" fill="#bebebe"/>
<circle cx="101.50" cy="447.97" r="1.1" fill="#bebebe"/>
<circle cx="101.92" cy="447.83" r="1.1" fill="#bebebe"/>
<circle cx="104.09" cy="447.75" r="1.1" fill="#bebebe"/>
<circle cx="105.48" cy="447.99" r="1.1" fill="#bebebe"/>
<circle cx="106.87" cy="447.92" r="1.1" fill="#bebebe"/>
<circle cx="94.76" cy="449.40" r="1.1" fill="#bebebe"/>
<circle cx="96.90" cy="449.23" r="1.1" fill="#bebebe"/>
<circle cx="97.74" cy="449.34" r="1.1" fill="#bebebe"/>
<circle cx="100.97" cy="449.06" r="1.1" fill="#bebebe"/>
<circle cx="102.30" cy="448.58" r="1.1" fill="#bebebe"/>
<circle cx="104.37" cy="448.48" r="1.1" fill="#bebebe"/>
<circle cx="105.88" cy="449.35" r="1.1" fill="#bebebe"/>
<circle cx="106.43" cy="449.27" r="1.1" fill="#bebebe"/>
<circle cx="97.46" cy="450.91" r="1.1" fill="#bebebe"/>
<circle cx="99.67" cy="451.04" r="1.1" fill="#bebebe"/>
<circle cx="100.56" cy="450.25" r="1.1" fill="#bebebe"/>
<circle cx="104.13" cy="450.40" r="1.1" fill="#bebebe"/>
<circle cx="105.65" cy="449.95" r="1.1" fill="#bebebe"/>
<circle cx="106.86" cy="449.99" r="1.1" fill="#bebebe"/>
<circle cx="108.59" cy="450.79" r="1.1" fill="#bebebe"/>
<circle cx="96.42" cy="451.78" r="1.1" fill="#bebebe"/>
<circle cx="97.99" cy="452.53" r="1.1" fill="#bebebe"/>
<circle cx="98.97" cy="452.24" r="1.1" fill="#bebebe"/>
<circle cx="101.16" cy="452.01" r="1.1" fill="#bebebe"/>
<circle cx="104.15" cy="451.72" r="1.1" fill="#bebebe"/>
<circle cx="105.21" cy="452.30" r="1.1" fill="#bebebe"/>
<circle cx="106.56" cy="451.68" r="1.1" fill="#bebebe"/>
<circle cx="108.78" cy="451.62" r="1.1" fill="#bebebe"/>
<circle cx="95.19" cy="453.00" r="1.1" fill="#bebebe"/>
<circle cx="96.01" cy="453.05" r="1.1" fill="#bebebe"/>
<circle cx="97.69" cy="453.95" r="1.1" fill="#bebebe"/>
<circle cx="99.29" cy="453.86" r="1.1" fill="#bebebe"/>
<circle cx="101.27" cy="452.96" r="1.1" fill="#bebebe"/>
<circle cx="103.04" cy="453.72" r="1.1" fill="#bebebe"/>
<circle cx="103.54" cy="454.07" r="1.1" fill="#bebebe"/>
<circle cx="105.88" cy="453.07" r="1.1" fill="#bebebe"/>
<circle cx="106.83" cy="453.18" r="1.1" fill="#bebebe"/>
<circle cx="108.64" cy="453.32" r="1.1" fill="#bebebe"/>
<circle cx="94.56" cy="455.40" r="1.1" fill="#bebebe"/>
<circle cx="96.87" cy="454.92" r="1.1" fill="#bebebe"/>
<circle cx="99.61" cy="455.09" r="1.1" fill="#bebebe"/>
<circle cx="100.87" cy="454.52" r="1.1" fill="#bebebe"/>
<circle cx="102.14" cy="454.45" r="1.1" fill="#bebebe"/>
<circle cx="105.81" cy="454.40" r="1.1" fill="#bebebe"/>
<circle cx="107.47" cy="455.14" r="1.1" fill="#bebebe"/>
<circle cx="108.46" cy="454.52" r="1.1" fill="#bebebe"/>
<circle cx="94.59" cy="456.35" r="1.1" fill="#bebebe"/>
<circle cx="96.96" cy="456.08" r="1.1" fill="#bebebe"/>
<circle cx="97.73" cy="456.09" r="1.1" fill="#bebebe"/>
<circle cx="99.18" cy="456.48" r="1.1" fill="#bebebe"/>
<circle cx="101.51" cy="456.34" r="1.1" fill="#bebebe"/>
<circle cx="104.21" cy="456.47" r="1.1" fill="#bebebe"/>
<circle cx="107.20" cy="456.25" r="1.1" fill="#bebebe"/>
<circle cx="108.78" cy="456.10" r="1.1" fill="#bebebe"/>
<circle cx="94.43" cy="457.68" r="1.1" fill="#bebebe"/>
<circle cx="96.38" cy="458.57" r="1.1" fill="#bebebe"/>
<circle cx="97.77" cy="457.96" r="1.1" fill="#bebebe"/>
<circle cx="99.78" cy="458.26" r="1.1" fill="#bebebe"/>
<circle cx="100.69" cy="458.21" r="1.1" fill="#bebebe"/>
<circle cx="103.92" cy="458.57" r="1.1" fill="#bebebe"/>
<circle cx="104.97" cy="458.34" r="1.1" fill="#bebebe"/>
<circle cx="106.45" cy="458.06" r="1.1" fill="#bebebe"/>
<circle cx="94.82" cy="459.01" r="1.1" fill="#bebebe"/>
<circle cx="96.98" cy="459.49" r="1.1" fill="#bebebe"/>
<circle cx="99.19" cy="458.96" r="1.1" fill="#bebebe"/>
<circle cx="100.47" cy="459.21" r="1.1" fill="#bebebe"/>
<circle cx="102.27" cy="458.96" r="1.1" fill="#bebebe"/>
<circle cx="104.57" cy="459.12" r="1.1" fill="#bebebe"/>
<circle cx="105.38" cy="459.54" r="1.1" fill="#bebebe"/>
<circle cx="106.78" cy="459.03" r="1.1" fill="#bebebe"/>
<circle cx="109.01" cy="459.62" r="1.1" fill="#bebebe"/>
<circle cx="95.92" cy="461.05" r="1.1" fill="#bebebe"/>
<circle cx="98.09" cy="460.85" r="1.1" fill="#bebebe"/>
<circle cx="99.77" cy="461.50" r="1.1" fill="#bebebe"/>
<circle cx="100.94" cy="461.39" r="1.1" fill="#bebebe"/>
<circle cx="102.04" cy="460.77" r="1.1" fill="#bebebe"/>
<circle cx="104.33" cy="461.38" r="1.1" fill="#bebebe"/>
<circle cx="105.06" cy="460.50" r="1.1" fill="#bebebe"/>
<circle cx="106.50" cy="460.91" r="1.1" fill="#bebebe"/>
<circle cx="108.19" cy="460.47" r="1.1" fill="#bebebe"/>
<circle cx="94.46" cy="462.14" r="1.1" fill="#bebebe"/>
<circle cx="96.35" cy="462.02" r="1.1" fill="#bebebe"/>
<circle cx="97.78" cy="462.80" r="1.1" fill="#bebebe"/>
<circle cx="99.98" cy="462.68" r="1.1" fill="#bebebe"/>
<circle cx="101.09" cy="462.43" r="1.1" fill="#bebebe"/>
<circle cx="102.69" cy="463.05" r="1.1" fill="#bebebe"/>
<circle cx="104.24" cy="462.22" r="1.1" fill="#bebebe"/>
<circle cx="105.36" cy="462.06" r="1.1" fill="#bebebe"/>
<circle cx="106.60" cy="462.22" r="1.1" fill="#bebebe"/>
<circle cx="108.24" cy="461.98" r="1.1" fill="#bebebe"/>
<circle cx="95.07" cy="463.43" r="1.1" fill="#bebebe"/>
<circle cx="96.06" cy="463.83" r="1.1" fill="#bebebe"/>
<circle cx="100.68" cy="463.91" r="1.1" fill="#bebebe"/>
<circle cx="102.30" cy="463.41" r="1.1" fill="#bebebe"/>
<circle cx="104.39" cy="464.27" r="1.1" fill="#bebebe"/>
<circle cx="105.54" cy="463.61" r="1.1" fill="#bebebe"/>
<circle cx="106.94" cy="464.53" r="1.1" fill="#bebebe"/>
<circle cx="108.04" cy="463.78" r="1.1" fill="#bebebe"/>
<circle cx="96.42" cy="465.43" r="1.1" fill="#bebebe"/>
<circle cx="98.52" cy="465.54" r="1.1" fill="#bebebe"/>
<circle cx="100.52" cy="465.88" r="1.1" fill="#bebebe"/>
<circle cx="101.96" cy="466.07" r="1.1" fill="#bebebe"/>
<circle cx="104.09" cy="465.48" r="1.1" fill="#bebebe"/>
<circle cx="106.66" cy="465.23" r="1.1" fill="#bebebe"/>
<circle cx="108.57" cy="465.33" r="1.1" fill="#bebebe"/>
<circle cx="94.69" cy="466.82" r="1.1" fill="#bebebe"/>
<circle cx="97.08" cy="467.41" r="1.1" fill="#bebebe"/>
<circle cx="98.14" cy="466.88" r="1.1" fill="#bebebe"/>
<circle cx="99.90" cy="466.99" r="1.1" fill="#bebebe"/>
<circle cx="100.60" cy="466.52" r="1.1" fill="#bebebe"/>
<circle cx="102.98" cy="466.64" r="1.1" fill="#bebebe"/>
<circle cx="103.79" cy="467.22" r="1.1" fill="#bebebe"/>
<circle cx="107.36" cy="466.85" r="1.1" fill="#bebebe"/>
<circle cx="108.51" cy="467.10" r="1.1" fill="#bebebe"/>
<circle cx="94.87" cy="468.28" r="1.1" fill="#bebebe"/>
<circle cx="96.27" cy="468.36" r="1.1" fill="#bebebe"/>
<circle cx="98.24" cy="468.38" r="1.1" fill="#bebebe"/>
<circle cx="101.51" cy="468.73" r="1.1" fill="#bebebe"/>
<circle cx="102.54" cy="468.86" r="1.1" fill="#bebebe"/>
<circle cx="104.11" cy="468.72" r="1.1" fill="#bebebe"/>
<circle cx="105.24" cy="467.99" r="1.1" fill="#bebebe"/>
<circle cx="106.83" cy="468.60" r="1.1" fill="#bebebe"/>
<circle cx="108.76" cy="468.27" r="1.1" fill="#bebebe"/>
<circle cx="96.76" cy="469.49" r="1.1" fill="#bebebe"/>
<circle cx="98.20" cy="470.55" r="1.1" fill="#bebebe"/>
<circle cx="101.41" cy="470.29" r="1.1" fill="#bebebe"/>
<circle cx="102.15" cy="470.02" r="1.1" fill="#bebebe"/>
<circle cx="106.07" cy="470.05" r="1.1" fill="#bebebe"/>
<circle cx="106.40" cy="469.87" r="1.1" fill="#bebebe"/>
<circle cx="108.68" cy="470.48" r="1.1" fill="#bebebe"/>
<circle cx="96.44" cy="471.03" r="1.1" fill="#bebebe"/>
<circle cx="98.14" cy="471.76" r="1.1" fill="#bebebe"/>
<circle cx="100.04" cy="471.16" r="1.1" fill="#bebebe"/>
<circle cx="100.80" cy="471.65" r="1.1" fill="#bebebe"/>
<circle cx="104.23" cy="471.82" r="1.1" fill="#bebebe"/>
<circle cx="105.05" cy="471.58" r="1.1" fill="#bebebe"/>
<circle cx="107.53" cy="471.77" r="1.1" fill="#bebebe"/>
<circle cx="108.49" cy="471.53" r="1.1" fill="#bebebe"/>
<circle cx="96.39" cy="473.13" r="1.1" fill="#bebebe"/>
<circle cx="99.09" cy="472.54" r="1.1" fill="#bebebe"/>
<circle cx="101.27" cy="472.62" r="1.1" fill="#bebebe"/>
<circle cx="102.76" cy="473.18" r="1.1" fill="#bebebe"/>
<circle cx="104.42" cy="472.47" r="1.1" fill="#bebebe"/>
<circle cx="106.05" cy="473.55" r="1.1" fill="#bebebe"/>
<circle cx="107.57" cy="473.17" r="1.1" fill="#bebebe"/>
<circle cx="95.46" cy="474.91" r="1.1" fill="#bebebe"/>
<circle cx="96.25" cy="474.13" r="1.1" fill="#bebebe"/>
<circle cx="97.74" cy="474.08" r="1.1" fill="#bebebe"/>
<circle cx="99.25" cy="474.81" r="1.1" fill="#bebebe"/>
<circle cx="101.60" cy="474.86" r="1.1" fill="#bebebe"/>
<circle cx="103.23" cy="475.05" r="1.1" fill="#bebebe"/>
<circle cx="104.78" cy="474.02" r="1.1" fill="#bebebe"/>
<circle cx="105.20" cy="474.15" r="1.1" fill="#bebebe"/>
<circle cx="107.18" cy="474.72" r="1.1" fill="#bebebe"/>
<circle cx="94.80" cy="475.88" r="1.1" fill="#bebebe"/>
<circle cx="96.65" cy="475.54" r="1.1" fill="#bebebe"/>
<circle cx="98.15" cy="476.22" r="1.1" fill="#bebebe"/>
<circle cx="100.36" cy="476.53" r="1.1" fill="#bebebe"/>
<circle cx="101.61" cy="476.27" r="1.1" fill="#bebebe"/>
<circle cx="102.34" cy="475.97" r="1.1" fill="#bebebe"/>
<circle cx="104.58" cy="476.50" r="1.1" fill="#bebebe"/>
<circle cx="105.55" cy="476.00" r="1.1" fill="#bebebe"/>
<circle cx="107.65" cy="476.09" r="1.1" fill="#bebebe"/>
<circle cx="95.18" cy="477.92" r="1.1" fill="#bebebe"/>
<circle cx="96.34" cy="477.40" r="1.1" fill="#bebebe"/>
<circle cx="98.57" cy="476.99" r="1.1" fill="#bebebe"/>
<circle cx="99.39" cy="477.47" r="1.1" fill="#bebebe"/>
<circle cx="102.74" cy="478.02" r="1.1" fill="#bebebe"/>
<circle cx="104.20" cy="477.87" r="1.1" fill="#bebebe"/>
<circle cx="106.19" cy="477.33" r="1.1" fill="#bebebe"/>
<circle cx="107.08" cy="477.45" r="1.1" fill="#bebebe"/>
<circle cx="95.47" cy="478.46" r="1.1" fill="#bebebe"/>
<circle cx="97.52" cy="478.93" r="1.1" fill="#bebebe"/>
<circle cx="97.95" cy="478.73" r="1.1" fill="#bebebe"/>
<circle cx="101.46" cy="478.46" r="1.1" fill="#bebebe"/>
<circle cx="103.28" cy="478.92" r="1.1" fill="#bebebe"/>
<circle cx="104.93" cy="479.17" r="1.1" fill="#bebebe"/>
<circle cx="105.39" cy="478.43" r="1.1" fill="#bebebe"/>
<circle cx="107.35" cy="479.45" r="1.1" fill="#bebebe"/>
<circle cx="96.05" cy="480.35" r="1.1" fill="#bebebe"/>
<circle cx="99.02" cy="480.08" r="1.1" fill="#bebebe"/>
<circle cx="99.96" cy="481.07" r="1.1" fill="#bebebe"/>
<circle cx="102.96" cy="480.23" r="1.1" fill="#bebebe"/>
<circle cx="104.29" cy="480.70" r="1.1" fill="#bebebe"/>
<circle cx="105.65" cy="480.45" r="1.1" fill="#bebebe"/>
<circle cx="107.41" cy="480.98" r="1.1" fill="#bebebe"/>
<circle cx="96.62" cy="482.39" r="1.1" fill="#bebebe"/>
<circle cx="99.76" cy="481.68" r="1.1" fill="#bebebe"/>
<circle cx="104.32" cy="481.91" r="1.1" fill="#bebebe"/>
<circle cx="106.50" cy="481.85" r="1.1" fill="#bebebe"/>
<circle cx="107.28" cy="482.02" r="1.1" fill="#bebebe"/>
<circle cx="96.86" cy="483.03" r="1.1" fill="#bebebe"/>
<circle cx="98.70" cy="483.34" r="1.1" fill="#bebebe"/>
<circle cx="100.45" cy="484.06" r="1.1" fill="#bebebe"/>
<circle cx="101.93" cy="483.22" r="1.1" fill="#bebebe"/>
<circle cx="103.63" cy="483.06" r="1.1" fill="#bebebe"/>
<circle cx="105.10" cy="482.91" r="1.1" fill="#bebebe"/>
<circle cx="106.25" cy="483.50" r="1.1" fill="#bebebe"/>
<circle cx="96.35" cy="484.47" r="1.1" fill="#bebebe"/>
<circle cx="96.95" cy="484.86" r="1.1" fill="#bebebe"/>
<circle cx="98.43" cy="484.76" r="1.1" fill="#bebebe"/>
<circle cx="100.69" cy="485.51" r="1.1" fill="#bebebe"/>
<circle cx="102.04" cy="485.26" r="1.1" fill="#bebebe"/>
<circle cx="95.75" cy="487.02" r="1.1" fill="#bebebe"/>
<circle cx="97.59" cy="486.78" r="1.1" fill="#bebebe"/>
<circle cx="99.02" cy="487.01" r="1.1" fill="#bebebe"/>
<circle cx="100.71" cy="486.90" r="1.1" fill="#bebebe"/>
<circle cx="101.97" cy="486.49" r="1.1" fill="#bebebe"/>
<circle cx="103.30" cy="486.44" r="1.1" fill="#bebebe"/>
<circle cx="104.66" cy="486.31" r="1.1" fill="#bebebe"/>
<circle cx="107.21" cy="486.22" r="1.1" fill="#bebebe"/>
<circle cx="96.64" cy="488.29" r="1.1" fill="#bebebe"/>
<circle cx="98.20" cy="488.15" r="1.1" fill="#bebebe"/>
<circle cx="99.45" cy="487.69" r="1.1" fill="#bebebe"/>
<circle cx="101.25" cy="487.93" r="1.1" fill="#bebebe"/>
<circle cx="103.36" cy="487.46" r="1.1" fill="#bebebe"/>
<circle cx="105.37" cy="487.41" r="1.1" fill="#bebebe"/>
<circle cx="107.19" cy="487.99" r="1.1" fill="#bebebe"/>
<circle cx="98.06" cy="489.04" r="1.1" fill="#bebebe"/>
<circle cx="99.58" cy="489.63" r="1.1" fill="#bebebe"/>
<circle cx="101.49" cy="489.03" r="1.1" fill="#bebebe"/>
<circle cx="102.67" cy="489.01" r="1.1" fill="#bebebe"/>
<circle cx="103.90" cy="489.68" r="1.1" fill="#bebebe"/>
<circle cx="96.18" cy="491.17" r="1.1" fill="#bebebe"/>
<circle cx="100.01" cy="490.71" r="1.1" fill="#bebebe"/>
<circle cx="100.60" cy="491.31" r="1.1" fill="#bebebe"/>
<circle cx="103.18" cy="490.96" r="1.1" fill="#bebebe"/>
<circle cx="103.86" cy="490.72" r="1.1" fill="#bebebe"/>
<circle cx="96.51" cy="492.32" r="1.1" fill="#bebebe"/>
<circle cx="98.41" cy="492.65" r="1.1" fill="#bebebe"/>
<circle cx="99.61" cy="492.07" r="1.1" fill="#bebebe"/>
<circle cx="101.72" cy="492.44" r="1.1" fill="#bebebe"/>
<circle cx="103.49" cy="492.07" r="1.1" fill="#bebebe"/>
<circle cx="104.49" cy="492.54" r="1.1" fill="#bebebe"/>
<circle cx="97.49" cy="493.90" r="1.1" fill="#bebebe"/>
<circle cx="101.33" cy="493.71" r="1.1" fill="#bebebe"/>
<circle cx="103.77" cy="493.72" r="1.1" fill="#bebebe"/>
<circle cx="104.97" cy="494.55" r="1.1" fill="#bebebe"/>
<circle cx="97.92" cy="495.30" r="1.1" fill="#bebebe"/>
<circle cx="99.26" cy="495.91" r="1.1" fill="#bebebe"/>
<circle cx="100.06" cy="496.07" r="1.1" fill="#bebebe"/>
<circle cx="102.26" cy="495.77" r="1.1" fill="#bebebe"/>
<circle cx="103.49" cy="495.30" r="1.1" fill="#bebebe"/>
<circle cx="104.58" cy="495.76" r="1.1" fill="#bebebe"/>
<circle cx="98.34" cy="496.48" r="1.1" fill="#bebebe"/>
<circle cx="99.02" cy="497.53" r="1.1" fill="#bebebe"/>
<circle cx="103.43" cy="496.90" r="1.1" fill="#bebebe"/>
<circle cx="104.83" cy="497.08" r="1.1" fill="#bebebe"/>
<circle cx="97.73" cy="498.51" r="1.1" fill="#bebebe"/>
<circle cx="102.22" cy="498.82" r="1.1" fill="#bebebe"/>
<circle cx="104.24" cy="498.00" r="1.1" fill="#bebebe"/>
<circle cx="99.92" cy="499.73" r="1.1" fill="#bebebe"/>
<circle cx="102.07" cy="499.91" r="1.1" fill="#bebebe"/>
<circle cx="103.02" cy="500.50" r="1.1" fill="#bebebe"/>
<circle cx="104.66" cy="500.50" r="1.1" fill="#bebebe"/>
<circle cx="99.06" cy="501.53" r="1.1" fill="#bebebe"/>
<circle cx="99.65" cy="502.03" r="1.1" fill="#bebebe"/>
<circle cx="101.62" cy="502.00" r="1.1" fill="#bebebe"/>
<circle cx="103.19" cy="501.24" r="1.1" fill="#bebebe"/>
<circle cx="98.84" cy="503.31" r="1.1" fill="#bebebe"/>
<circle cx="99.94" cy="502.64" r="1.1" fill="#bebebe"/>
<circle cx="102.15" cy="502.52" r="1.1" fill="#bebebe"/>
<circle cx="104.48" cy="502.51" r="1.1" fill="#bebebe"/>
<circle cx="99.21" cy="504.93" r="1.1" fill="#bebebe"/>
<circle cx="100.80" cy="504.03" r="1.1" fill="#bebebe"/>
<circle cx="101.76" cy="504.33" r="1.1" fill="#bebebe"/>
<circle cx="103.83" cy="504.05" r="1.1" fill="#bebebe"/>
<circle cx="100.86" cy="506.17" r="1.1" fill="#bebebe"/>
<circle cx="102.70" cy="506.50" r="1.1" fill="#bebebe"/>
<circle cx="103.55" cy="506.45" r="1.1" fill="#bebebe"/>
<circle cx="99.34" cy="507.40" r="1.1" fill="#bebebe"/>
<circle cx="102.62" cy="507.81" r="1.1" fill="#bebebe"/>
<circle cx="100.43" cy="508.77" r="1.1" fill="#bebebe"/>
<circle cx="102.80" cy="509.41" r="1.1" fill="#bebebe"/>
<circle cx="102.28" cy="510.51" r="1.1" fill="#bebebe"/>
<circle cx="101.46" cy="511.59" r="1.1" fill="#bebebe"/>
<circle cx="102.00" cy="512.35" r="1.1" fill="#bebebe"/>
<circle cx="30.60" cy="398.90" r="1.1" fill="#bebebe"/>
<circle cx="80.50" cy="473.60" r="1.1" fill="#bebebe"/>
<circle cx="159.00" cy="447.30" r="1.1" fill="#bebebe"/>
<circle cx="104.80" cy="412.20" r="1.1" fill="#bebebe"/>
<circle cx="103.75" cy="415.80" r="1.1" fill="#bebebe"/>
<circle cx="99.80" cy="424.20" r="1.1" fill="#bebebe"/>
<circle cx="103.40" cy="423.50" r="1.1" fill="#bebebe"/>
<circle cx="103.40" cy="425.00" r="1.1" fill="#bebebe"/>
<circle cx="105.50" cy="438.75" r="1.1" fill="#bebebe"/>
<circle cx="107.00" cy="440.50" r="1.1" fill="#bebebe"/>
<circle cx="107.00" cy="442.50" r="1.1" fill="#bebebe"/>
<circle cx="102.20" cy="527.40" r="1.1" fill="#bebebe"/>
<circle cx="108.00" cy="506.60" r="1.1" fill="#bebebe"/>
<circle cx="109.50" cy="493.00" r="1.1" fill="#bebebe"/>
<line x1="94.7" y1="372.0" x2="94.7" y2="534.0" stroke="#4a4a4a" stroke-width="1.0" stroke-dasharray="2.9 2.25"/>
<line x1="109.4" y1="372.0" x2="109.4" y2="534.0" stroke="#4a4a4a" stroke-width="1.0" stroke-dasharray="2.9 2.25"/>
<line x1="24.5" y1="469" x2="165.5" y2="469" stroke="#4a4a4a" stroke-width="1.0" stroke-dasharray="2.9 2.25"/>
<circle cx="67.30" cy="379.40" r="1.1" fill="#22e022"/>
<circle cx="67.00" cy="383.30" r="1.1" fill="#22e022"/>
<circle cx="92.30" cy="404.40" r="1.1" fill="#22e022"/>
<circle cx="90.90" cy="409.60" r="1.1" fill="#22e022"/>
<circle cx="92.50" cy="408.50" r="1.1" fill="#22e022"/>
<circle cx="91.25" cy="413.75" r="1.1" fill="#22e022"/>
<circle cx="93.50" cy="413.20" r="1.1" fill="#22e022"/>
<circle cx="85.00" cy="417.90" r="1.1" fill="#22e022"/>
<circle cx="93.50" cy="419.80" r="1.1" fill="#22e022"/>
<circle cx="93.00" cy="433.00" r="1.1" fill="#22e022"/>
<circle cx="93.90" cy="441.60" r="1.1" fill="#22e022"/>
<circle cx="94.20" cy="448.90" r="1.1" fill="#22e022"/>
<circle cx="93.60" cy="452.30" r="1.1" fill="#22e022"/>
<circle cx="90.25" cy="458.50" r="1.1" fill="#22e022"/>
<circle cx="92.10" cy="462.40" r="1.1" fill="#22e022"/>
<circle cx="93.90" cy="464.50" r="1.1" fill="#22e022"/>
<circle cx="91.10" cy="466.60" r="1.1" fill="#22e022"/>
<circle cx="93.40" cy="467.10" r="1.1" fill="#22e022"/>
<circle cx="79.00" cy="419.50" r="1.1" fill="#22e022"/>
<circle cx="116.00" cy="437.80" r="1.1" fill="#f01010"/>
<circle cx="115.60" cy="437.00" r="1.1" fill="#f01010"/>
<circle cx="111.60" cy="444.70" r="1.1" fill="#f01010"/>
<circle cx="114.40" cy="452.00" r="1.1" fill="#f01010"/>
<circle cx="109.80" cy="455.80" r="1.1" fill="#8b1010"/>
<rect x="24.5" y="372.0" width="141.0" height="162.0" fill="none" stroke="#d0d0d0" stroke-width="0.95"/>
<line x1="28.70" y1="534.0" x2="28.70" y2="535.3" stroke="#aaa" stroke-width="0.5"/>
<rect x="27.40" y="535.6" width="2.6" height="1.5" fill="#cfcfcf"/>
<line x1="65.50" y1="534.0" x2="65.50" y2="535.3" stroke="#aaa" stroke-width="0.5"/>
<rect x="64.20" y="535.6" width="2.6" height="1.5" fill="#cfcfcf"/>
<line x1="102.30" y1="534.0" x2="102.30" y2="535.3" stroke="#aaa" stroke-width="0.5"/>
<rect x="101.00" y="535.6" width="2.6" height="1.5" fill="#cfcfcf"/>
<line x1="139.10" y1="534.0" x2="139.10" y2="535.3" stroke="#aaa" stroke-width="0.5"/>
<rect x="137.80" y="535.6" width="2.6" height="1.5" fill="#cfcfcf"/>
<line x1="23.1" y1="381.50" x2="24.5" y2="381.50" stroke="#aaa" stroke-width="0.5"/>
<rect x="20.50" y="380.75" width="2.4" height="1.5" fill="#cfcfcf"/>
<line x1="23.1" y1="410.70" x2="24.5" y2="410.70" stroke="#aaa" stroke-width="0.5"/>
<rect x="20.50" y="409.95" width="2.4" height="1.5" fill="#cfcfcf"/>
<line x1="23.1" y1="439.90" x2="24.5" y2="439.90" stroke="#aaa" stroke-width="0.5"/>
<rect x="20.50" y="439.15" width="2.4" height="1.5" fill="#cfcfcf"/>
<line x1="23.1" y1="469.10" x2="24.5" y2="469.10" stroke="#aaa" stroke-width="0.5"/>
<rect x="20.50" y="468.35" width="2.4" height="1.5" fill="#cfcfcf"/>
<line x1="23.1" y1="498.30" x2="24.5" y2="498.30" stroke="#aaa" stroke-width="0.5"/>
<rect x="20.50" y="497.55" width="2.4" height="1.5" fill="#cfcfcf"/>
<line x1="23.1" y1="527.50" x2="24.5" y2="527.50" stroke="#aaa" stroke-width="0.5"/>
<rect x="20.50" y="526.75" width="2.4" height="1.5" fill="#cfcfcf"/>
<text x="0" y="0" font-size="9.3" text-anchor="start" fill="#111" stroke="#111" stroke-width="0.25" transform="translate(15.6 364.0) scale(1.0 1)" >E</text>
<text x="0" y="0" font-size="6.2" text-anchor="middle" fill="#222" stroke="#222" stroke-width="0.15" transform="translate(88.85 543.8) scale(0.903 1)" >Log2FC</text>
<text x="0" y="0" font-size="6.3" text-anchor="middle" fill="#222" stroke="#222" stroke-width="0.15" transform="translate(16.3 444.7) scale(0.94 1) rotate(-90)" >VIP</text>
<circle cx="172.9" cy="450.7" r="1.3" fill="#22e022"/>
<text x="0" y="0" font-size="4.8" text-anchor="start" fill="#1a1a1a" stroke="#1a1a1a" stroke-width="0.15" transform="translate(178.20000000000002 452.4) scale(0.92 1)" >down</text>
<circle cx="172.9" cy="455.9" r="1.3" fill="#bebebe"/>
<text x="0" y="0" font-size="4.8" text-anchor="start" fill="#1a1a1a" stroke="#1a1a1a" stroke-width="0.15" transform="translate(178.20000000000002 457.59999999999997) scale(0.92 1)" >insig</text>
<circle cx="172.9" cy="461.09999999999997" r="1.3" fill="#f01010"/>
<text x="0" y="0" font-size="4.8" text-anchor="start" fill="#1a1a1a" stroke="#1a1a1a" stroke-width="0.15" transform="translate(178.20000000000002 462.79999999999995) scale(0.92 1)" >up</text>
<rect x="214.0" y="370.5" width="142.0" height="160.5" fill="#fff"/>
<line x1="217.07" y1="370.5" x2="217.07" y2="531.0" stroke="#f6f6f6" stroke-width="0.5"/>
<line x1="246.73" y1="370.5" x2="246.73" y2="531.0" stroke="#f6f6f6" stroke-width="0.5"/>
<line x1="276.38" y1="370.5" x2="276.38" y2="531.0" stroke="#f6f6f6" stroke-width="0.5"/>
<line x1="306.03" y1="370.5" x2="306.03" y2="531.0" stroke="#f6f6f6" stroke-width="0.5"/>
<line x1="335.68" y1="370.5" x2="335.68" y2="531.0" stroke="#f6f6f6" stroke-width="0.5"/>
<line x1="214.0" y1="406.40" x2="356.0" y2="406.40" stroke="#f6f6f6" stroke-width="0.5"/>
<line x1="214.0" y1="453.70" x2="356.0" y2="453.70" stroke="#f6f6f6" stroke-width="0.5"/>
<line x1="214.0" y1="501.10" x2="356.0" y2="501.10" stroke="#f6f6f6" stroke-width="0.5"/>
<line x1="231.90" y1="370.5" x2="231.90" y2="531.0" stroke="#f0f0f0" stroke-width="0.7"/>
<line x1="261.55" y1="370.5" x2="261.55" y2="531.0" stroke="#f0f0f0" stroke-width="0.7"/>
<line x1="291.20" y1="370.5" x2="291.20" y2="531.0" stroke="#f0f0f0" stroke-width="0.7"/>
<line x1="320.85" y1="370.5" x2="320.85" y2="531.0" stroke="#f0f0f0" stroke-width="0.7"/>
<line x1="350.50" y1="370.5" x2="350.50" y2="531.0" stroke="#f0f0f0" stroke-width="0.7"/>
<line x1="214.0" y1="382.80" x2="356.0" y2="382.80" stroke="#f0f0f0" stroke-width="0.7"/>
<line x1="214.0" y1="430.00" x2="356.0" y2="430.00" stroke="#f0f0f0" stroke-width="0.7"/>
<line x1="214.0" y1="477.30" x2="356.0" y2="477.30" stroke="#f0f0f0" stroke-width="0.7"/>
<line x1="214.0" y1="524.70" x2="356.0" y2="524.70" stroke="#f0f0f0" stroke-width="0.7"/>
<circle cx="317.58" cy="431.18" r="1.1" fill="#bebebe"/>
<circle cx="319.54" cy="430.84" r="1.1" fill="#bebebe"/>
<circle cx="321.01" cy="430.44" r="1.1" fill="#bebebe"/>
<circle cx="323.51" cy="430.91" r="1.1" fill="#bebebe"/>
<circle cx="318.57" cy="432.65" r="1.1" fill="#bebebe"/>
<circle cx="323.97" cy="431.96" r="1.1" fill="#bebebe"/>
<circle cx="316.37" cy="433.54" r="1.1" fill="#bebebe"/>
<circle cx="318.68" cy="433.62" r="1.1" fill="#bebebe"/>
<circle cx="322.86" cy="433.48" r="1.1" fill="#bebebe"/>
<circle cx="323.95" cy="434.22" r="1.1" fill="#bebebe"/>
<circle cx="315.98" cy="435.60" r="1.1" fill="#bebebe"/>
<circle cx="317.46" cy="435.85" r="1.1" fill="#bebebe"/>
<circle cx="320.79" cy="435.53" r="1.1" fill="#bebebe"/>
<circle cx="325.78" cy="435.04" r="1.1" fill="#bebebe"/>
<circle cx="316.11" cy="436.58" r="1.1" fill="#bebebe"/>
<circle cx="316.75" cy="437.20" r="1.1" fill="#bebebe"/>
<circle cx="320.75" cy="436.78" r="1.1" fill="#bebebe"/>
<circle cx="323.40" cy="436.95" r="1.1" fill="#bebebe"/>
<circle cx="317.20" cy="437.97" r="1.1" fill="#bebebe"/>
<circle cx="318.68" cy="439.09" r="1.1" fill="#bebebe"/>
<circle cx="321.36" cy="438.70" r="1.1" fill="#bebebe"/>
<circle cx="322.95" cy="438.10" r="1.1" fill="#bebebe"/>
<circle cx="323.97" cy="438.82" r="1.1" fill="#bebebe"/>
<circle cx="314.90" cy="439.87" r="1.1" fill="#bebebe"/>
<circle cx="318.14" cy="440.06" r="1.1" fill="#bebebe"/>
<circle cx="324.10" cy="439.83" r="1.1" fill="#bebebe"/>
<circle cx="316.01" cy="441.18" r="1.1" fill="#bebebe"/>
<circle cx="317.88" cy="441.61" r="1.1" fill="#bebebe"/>
<circle cx="318.80" cy="441.40" r="1.1" fill="#bebebe"/>
<circle cx="320.98" cy="442.04" r="1.1" fill="#bebebe"/>
<circle cx="322.42" cy="441.64" r="1.1" fill="#bebebe"/>
<circle cx="323.36" cy="441.98" r="1.1" fill="#bebebe"/>
<circle cx="325.85" cy="441.86" r="1.1" fill="#bebebe"/>
<circle cx="314.67" cy="442.52" r="1.1" fill="#bebebe"/>
<circle cx="315.77" cy="442.48" r="1.1" fill="#bebebe"/>
<circle cx="317.39" cy="442.81" r="1.1" fill="#bebebe"/>
<circle cx="318.69" cy="442.58" r="1.1" fill="#bebebe"/>
<circle cx="320.63" cy="442.43" r="1.1" fill="#bebebe"/>
<circle cx="323.37" cy="442.70" r="1.1" fill="#bebebe"/>
<circle cx="325.13" cy="442.55" r="1.1" fill="#bebebe"/>
<circle cx="315.38" cy="444.46" r="1.1" fill="#bebebe"/>
<circle cx="315.79" cy="444.02" r="1.1" fill="#bebebe"/>
<circle cx="317.50" cy="444.89" r="1.1" fill="#bebebe"/>
<circle cx="318.71" cy="445.04" r="1.1" fill="#bebebe"/>
<circle cx="320.36" cy="444.55" r="1.1" fill="#bebebe"/>
<circle cx="322.32" cy="445.07" r="1.1" fill="#bebebe"/>
<circle cx="325.00" cy="444.34" r="1.1" fill="#bebebe"/>
<circle cx="315.10" cy="446.04" r="1.1" fill="#bebebe"/>
<circle cx="316.07" cy="445.67" r="1.1" fill="#bebebe"/>
<circle cx="318.36" cy="446.42" r="1.1" fill="#bebebe"/>
<circle cx="319.66" cy="446.29" r="1.1" fill="#bebebe"/>
<circle cx="320.80" cy="445.83" r="1.1" fill="#bebebe"/>
<circle cx="321.71" cy="445.74" r="1.1" fill="#bebebe"/>
<circle cx="324.01" cy="446.55" r="1.1" fill="#bebebe"/>
<circle cx="325.80" cy="446.59" r="1.1" fill="#bebebe"/>
<circle cx="315.93" cy="447.17" r="1.1" fill="#bebebe"/>
<circle cx="317.41" cy="447.65" r="1.1" fill="#bebebe"/>
<circle cx="320.74" cy="447.68" r="1.1" fill="#bebebe"/>
<circle cx="321.77" cy="447.69" r="1.1" fill="#bebebe"/>
<circle cx="325.57" cy="447.47" r="1.1" fill="#bebebe"/>
<circle cx="315.11" cy="448.80" r="1.1" fill="#bebebe"/>
<circle cx="316.83" cy="448.88" r="1.1" fill="#bebebe"/>
<circle cx="318.30" cy="449.27" r="1.1" fill="#bebebe"/>
<circle cx="318.81" cy="448.58" r="1.1" fill="#bebebe"/>
<circle cx="321.84" cy="449.39" r="1.1" fill="#bebebe"/>
<circle cx="325.08" cy="449.06" r="1.1" fill="#bebebe"/>
<circle cx="314.17" cy="451.07" r="1.1" fill="#bebebe"/>
<circle cx="316.28" cy="451.02" r="1.1" fill="#bebebe"/>
<circle cx="318.20" cy="450.89" r="1.1" fill="#bebebe"/>
<circle cx="318.95" cy="450.25" r="1.1" fill="#bebebe"/>
<circle cx="320.86" cy="450.21" r="1.1" fill="#bebebe"/>
<circle cx="321.81" cy="450.99" r="1.1" fill="#bebebe"/>
<circle cx="323.70" cy="450.60" r="1.1" fill="#bebebe"/>
<circle cx="315.24" cy="452.00" r="1.1" fill="#bebebe"/>
<circle cx="316.27" cy="451.42" r="1.1" fill="#bebebe"/>
<circle cx="317.36" cy="451.40" r="1.1" fill="#bebebe"/>
<circle cx="318.85" cy="451.97" r="1.1" fill="#bebebe"/>
<circle cx="320.81" cy="451.79" r="1.1" fill="#bebebe"/>
<circle cx="322.31" cy="452.34" r="1.1" fill="#bebebe"/>
<circle cx="323.82" cy="451.70" r="1.1" fill="#bebebe"/>
<circle cx="325.57" cy="452.01" r="1.1" fill="#bebebe"/>
<circle cx="315.05" cy="453.99" r="1.1" fill="#bebebe"/>
<circle cx="316.37" cy="453.51" r="1.1" fill="#bebebe"/>
<circle cx="317.97" cy="453.44" r="1.1" fill="#bebebe"/>
<circle cx="319.21" cy="454.03" r="1.1" fill="#bebebe"/>
<circle cx="321.19" cy="454.03" r="1.1" fill="#bebebe"/>
<circle cx="322.31" cy="454.03" r="1.1" fill="#bebebe"/>
<circle cx="323.30" cy="453.05" r="1.1" fill="#bebebe"/>
<circle cx="324.72" cy="453.19" r="1.1" fill="#bebebe"/>
<circle cx="314.93" cy="455.34" r="1.1" fill="#bebebe"/>
<circle cx="317.99" cy="455.19" r="1.1" fill="#bebebe"/>
<circle cx="319.69" cy="455.56" r="1.1" fill="#bebebe"/>
<circle cx="321.27" cy="454.88" r="1.1" fill="#bebebe"/>
<circle cx="322.81" cy="455.40" r="1.1" fill="#bebebe"/>
<circle cx="323.64" cy="455.02" r="1.1" fill="#bebebe"/>
<circle cx="324.86" cy="454.78" r="1.1" fill="#bebebe"/>
<circle cx="314.14" cy="456.56" r="1.1" fill="#bebebe"/>
<circle cx="315.64" cy="456.30" r="1.1" fill="#bebebe"/>
<circle cx="317.73" cy="455.98" r="1.1" fill="#bebebe"/>
<circle cx="321.28" cy="456.03" r="1.1" fill="#bebebe"/>
<circle cx="321.66" cy="456.83" r="1.1" fill="#bebebe"/>
<circle cx="323.27" cy="456.41" r="1.1" fill="#bebebe"/>
<circle cx="314.42" cy="457.58" r="1.1" fill="#bebebe"/>
<circle cx="317.95" cy="457.51" r="1.1" fill="#bebebe"/>
<circle cx="319.43" cy="457.91" r="1.1" fill="#bebebe"/>
<circle cx="321.23" cy="458.16" r="1.1" fill="#bebebe"/>
<circle cx="321.71" cy="458.43" r="1.1" fill="#bebebe"/>
<circle cx="324.14" cy="457.94" r="1.1" fill="#bebebe"/>
<circle cx="325.27" cy="458.51" r="1.1" fill="#bebebe"/>
<circle cx="314.26" cy="459.53" r="1.1" fill="#bebebe"/>
<circle cx="315.73" cy="459.09" r="1.1" fill="#bebebe"/>
<circle cx="317.34" cy="459.27" r="1.1" fill="#bebebe"/>
<circle cx="319.51" cy="459.25" r="1.1" fill="#bebebe"/>
<circle cx="320.31" cy="459.32" r="1.1" fill="#bebebe"/>
<circle cx="321.90" cy="458.92" r="1.1" fill="#bebebe"/>
<circle cx="323.76" cy="459.13" r="1.1" fill="#bebebe"/>
<circle cx="325.72" cy="459.03" r="1.1" fill="#bebebe"/>
<circle cx="314.61" cy="460.99" r="1.1" fill="#bebebe"/>
<circle cx="316.06" cy="461.01" r="1.1" fill="#bebebe"/>
<circle cx="318.27" cy="460.81" r="1.1" fill="#bebebe"/>
<circle cx="319.44" cy="461.16" r="1.1" fill="#bebebe"/>
<circle cx="320.51" cy="460.47" r="1.1" fill="#bebebe"/>
<circle cx="321.68" cy="461.29" r="1.1" fill="#bebebe"/>
<circle cx="323.29" cy="460.50" r="1.1" fill="#bebebe"/>
<circle cx="325.64" cy="461.20" r="1.1" fill="#bebebe"/>
<circle cx="314.37" cy="462.25" r="1.1" fill="#bebebe"/>
<circle cx="315.77" cy="462.43" r="1.1" fill="#bebebe"/>
<circle cx="318.24" cy="463.07" r="1.1" fill="#bebebe"/>
<circle cx="318.88" cy="463.06" r="1.1" fill="#bebebe"/>
<circle cx="320.51" cy="461.90" r="1.1" fill="#bebebe"/>
<circle cx="322.15" cy="462.50" r="1.1" fill="#bebebe"/>
<circle cx="323.69" cy="461.91" r="1.1" fill="#bebebe"/>
<circle cx="324.69" cy="462.38" r="1.1" fill="#bebebe"/>
<circle cx="314.10" cy="463.77" r="1.1" fill="#bebebe"/>
<circle cx="316.28" cy="464.04" r="1.1" fill="#bebebe"/>
<circle cx="317.86" cy="464.26" r="1.1" fill="#bebebe"/>
<circle cx="320.47" cy="464.58" r="1.1" fill="#bebebe"/>
<circle cx="322.44" cy="464.17" r="1.1" fill="#bebebe"/>
<circle cx="324.08" cy="464.47" r="1.1" fill="#bebebe"/>
<circle cx="325.45" cy="464.37" r="1.1" fill="#bebebe"/>
<circle cx="314.69" cy="465.51" r="1.1" fill="#bebebe"/>
<circle cx="316.53" cy="465.89" r="1.1" fill="#bebebe"/>
<circle cx="318.14" cy="465.72" r="1.1" fill="#bebebe"/>
<circle cx="318.84" cy="464.94" r="1.1" fill="#bebebe"/>
<circle cx="320.50" cy="465.03" r="1.1" fill="#bebebe"/>
<circle cx="322.24" cy="465.65" r="1.1" fill="#bebebe"/>
<circle cx="323.88" cy="465.49" r="1.1" fill="#bebebe"/>
<circle cx="325.52" cy="465.80" r="1.1" fill="#bebebe"/>
<circle cx="314.70" cy="467.19" r="1.1" fill="#bebebe"/>
<circle cx="316.44" cy="466.70" r="1.1" fill="#bebebe"/>
<circle cx="317.38" cy="467.28" r="1.1" fill="#bebebe"/>
<circle cx="319.44" cy="467.57" r="1.1" fill="#bebebe"/>
<circle cx="320.52" cy="466.97" r="1.1" fill="#bebebe"/>
<circle cx="322.48" cy="467.14" r="1.1" fill="#bebebe"/>
<circle cx="323.15" cy="466.58" r="1.1" fill="#bebebe"/>
<circle cx="325.45" cy="466.77" r="1.1" fill="#bebebe"/>
<circle cx="314.06" cy="467.97" r="1.1" fill="#bebebe"/>
<circle cx="316.35" cy="468.73" r="1.1" fill="#bebebe"/>
<circle cx="317.40" cy="468.52" r="1.1" fill="#bebebe"/>
<circle cx="319.11" cy="468.04" r="1.1" fill="#bebebe"/>
<circle cx="322.72" cy="469.02" r="1.1" fill="#bebebe"/>
<circle cx="323.60" cy="468.88" r="1.1" fill="#bebebe"/>
<circle cx="314.36" cy="469.65" r="1.1" fill="#bebebe"/>
<circle cx="317.74" cy="469.57" r="1.1" fill="#bebebe"/>
<circle cx="319.68" cy="469.56" r="1.1" fill="#bebebe"/>
<circle cx="320.65" cy="470.46" r="1.1" fill="#bebebe"/>
<circle cx="321.82" cy="470.48" r="1.1" fill="#bebebe"/>
<circle cx="323.07" cy="469.40" r="1.1" fill="#bebebe"/>
<circle cx="325.08" cy="469.76" r="1.1" fill="#bebebe"/>
<circle cx="314.44" cy="471.28" r="1.1" fill="#bebebe"/>
<circle cx="315.53" cy="471.80" r="1.1" fill="#bebebe"/>
<circle cx="317.18" cy="472.01" r="1.1" fill="#bebebe"/>
<circle cx="319.61" cy="471.25" r="1.1" fill="#bebebe"/>
<circle cx="320.50" cy="472.10" r="1.1" fill="#bebebe"/>
<circle cx="321.96" cy="471.41" r="1.1" fill="#bebebe"/>
<circle cx="323.09" cy="471.02" r="1.1" fill="#bebebe"/>
<circle cx="324.87" cy="472.02" r="1.1" fill="#bebebe"/>
<circle cx="314.34" cy="473.01" r="1.1" fill="#bebebe"/>
<circle cx="315.97" cy="473.55" r="1.1" fill="#bebebe"/>
<circle cx="319.28" cy="473.50" r="1.1" fill="#bebebe"/>
<circle cx="322.39" cy="472.46" r="1.1" fill="#bebebe"/>
<circle cx="323.56" cy="473.30" r="1.1" fill="#bebebe"/>
<circle cx="324.87" cy="472.46" r="1.1" fill="#bebebe"/>
<circle cx="316.08" cy="474.31" r="1.1" fill="#bebebe"/>
<circle cx="317.90" cy="475.07" r="1.1" fill="#bebebe"/>
<circle cx="319.30" cy="474.26" r="1.1" fill="#bebebe"/>
<circle cx="320.49" cy="474.10" r="1.1" fill="#bebebe"/>
<circle cx="321.76" cy="474.99" r="1.1" fill="#bebebe"/>
<circle cx="323.28" cy="474.99" r="1.1" fill="#bebebe"/>
<circle cx="314.17" cy="475.63" r="1.1" fill="#bebebe"/>
<circle cx="315.92" cy="475.51" r="1.1" fill="#bebebe"/>
<circle cx="317.32" cy="476.08" r="1.1" fill="#bebebe"/>
<circle cx="320.50" cy="475.90" r="1.1" fill="#bebebe"/>
<circle cx="321.96" cy="475.81" r="1.1" fill="#bebebe"/>
<circle cx="323.34" cy="476.56" r="1.1" fill="#bebebe"/>
<circle cx="325.11" cy="476.16" r="1.1" fill="#bebebe"/>
<circle cx="315.39" cy="477.20" r="1.1" fill="#bebebe"/>
<circle cx="317.10" cy="478.04" r="1.1" fill="#bebebe"/>
<circle cx="321.11" cy="477.75" r="1.1" fill="#bebebe"/>
<circle cx="324.77" cy="476.90" r="1.1" fill="#bebebe"/>
<circle cx="326.68" cy="477.89" r="1.1" fill="#bebebe"/>
<circle cx="315.40" cy="478.59" r="1.1" fill="#bebebe"/>
<circle cx="317.59" cy="479.53" r="1.1" fill="#bebebe"/>
<circle cx="320.68" cy="478.95" r="1.1" fill="#bebebe"/>
<circle cx="321.31" cy="479.34" r="1.1" fill="#bebebe"/>
<circle cx="323.87" cy="479.17" r="1.1" fill="#bebebe"/>
<circle cx="324.42" cy="478.70" r="1.1" fill="#bebebe"/>
<circle cx="326.60" cy="478.53" r="1.1" fill="#bebebe"/>
<circle cx="327.90" cy="479.10" r="1.1" fill="#bebebe"/>
<circle cx="311.67" cy="480.62" r="1.1" fill="#bebebe"/>
<circle cx="313.26" cy="480.45" r="1.1" fill="#bebebe"/>
<circle cx="319.18" cy="480.20" r="1.1" fill="#bebebe"/>
<circle cx="323.43" cy="480.50" r="1.1" fill="#bebebe"/>
<circle cx="326.71" cy="480.70" r="1.1" fill="#bebebe"/>
<circle cx="311.44" cy="481.81" r="1.1" fill="#bebebe"/>
<circle cx="313.72" cy="481.64" r="1.1" fill="#bebebe"/>
<circle cx="317.65" cy="482.56" r="1.1" fill="#bebebe"/>
<circle cx="319.88" cy="481.68" r="1.1" fill="#bebebe"/>
<circle cx="321.31" cy="481.75" r="1.1" fill="#bebebe"/>
<circle cx="323.62" cy="481.67" r="1.1" fill="#bebebe"/>
<circle cx="325.70" cy="482.54" r="1.1" fill="#bebebe"/>
<circle cx="326.87" cy="481.66" r="1.1" fill="#bebebe"/>
<circle cx="311.46" cy="482.97" r="1.1" fill="#bebebe"/>
<circle cx="313.98" cy="483.96" r="1.1" fill="#bebebe"/>
<circle cx="319.12" cy="484.02" r="1.1" fill="#bebebe"/>
<circle cx="322.70" cy="483.35" r="1.1" fill="#bebebe"/>
<circle cx="323.80" cy="483.10" r="1.1" fill="#bebebe"/>
<circle cx="325.24" cy="483.32" r="1.1" fill="#bebebe"/>
<circle cx="329.06" cy="483.15" r="1.1" fill="#bebebe"/>
<circle cx="312.39" cy="485.39" r="1.1" fill="#bebebe"/>
<circle cx="312.96" cy="484.97" r="1.1" fill="#bebebe"/>
<circle cx="315.50" cy="484.63" r="1.1" fill="#bebebe"/>
<circle cx="316.98" cy="484.44" r="1.1" fill="#bebebe"/>
<circle cx="318.37" cy="485.32" r="1.1" fill="#bebebe"/>
<circle cx="318.94" cy="484.48" r="1.1" fill="#bebebe"/>
<circle cx="322.80" cy="485.48" r="1.1" fill="#bebebe"/>
<circle cx="323.73" cy="485.55" r="1.1" fill="#bebebe"/>
<circle cx="327.26" cy="484.78" r="1.1" fill="#bebebe"/>
<circle cx="327.90" cy="485.31" r="1.1" fill="#bebebe"/>
<circle cx="316.18" cy="486.47" r="1.1" fill="#bebebe"/>
<circle cx="320.70" cy="486.42" r="1.1" fill="#bebebe"/>
<circle cx="323.01" cy="486.12" r="1.1" fill="#bebebe"/>
<circle cx="313.28" cy="487.83" r="1.1" fill="#bebebe"/>
<circle cx="316.14" cy="488.30" r="1.1" fill="#bebebe"/>
<circle cx="317.48" cy="487.44" r="1.1" fill="#bebebe"/>
<circle cx="321.58" cy="488.46" r="1.1" fill="#bebebe"/>
<circle cx="323.50" cy="487.52" r="1.1" fill="#bebebe"/>
<circle cx="328.18" cy="487.90" r="1.1" fill="#bebebe"/>
<circle cx="319.91" cy="489.25" r="1.1" fill="#bebebe"/>
<circle cx="322.79" cy="489.14" r="1.1" fill="#bebebe"/>
<circle cx="323.69" cy="489.08" r="1.1" fill="#bebebe"/>
<circle cx="328.38" cy="490.09" r="1.1" fill="#bebebe"/>
<circle cx="314.07" cy="491.18" r="1.1" fill="#bebebe"/>
<circle cx="316.67" cy="491.38" r="1.1" fill="#bebebe"/>
<circle cx="320.95" cy="490.54" r="1.1" fill="#bebebe"/>
<circle cx="323.27" cy="491.10" r="1.1" fill="#bebebe"/>
<circle cx="326.14" cy="490.94" r="1.1" fill="#bebebe"/>
<circle cx="327.53" cy="491.53" r="1.1" fill="#bebebe"/>
<circle cx="328.82" cy="491.14" r="1.1" fill="#bebebe"/>
<circle cx="312.34" cy="492.07" r="1.1" fill="#bebebe"/>
<circle cx="313.71" cy="492.62" r="1.1" fill="#bebebe"/>
<circle cx="316.41" cy="492.29" r="1.1" fill="#bebebe"/>
<circle cx="319.77" cy="492.14" r="1.1" fill="#bebebe"/>
<circle cx="324.02" cy="492.37" r="1.1" fill="#bebebe"/>
<circle cx="312.40" cy="494.23" r="1.1" fill="#bebebe"/>
<circle cx="315.57" cy="494.54" r="1.1" fill="#bebebe"/>
<circle cx="317.38" cy="493.83" r="1.1" fill="#bebebe"/>
<circle cx="325.07" cy="493.64" r="1.1" fill="#bebebe"/>
<circle cx="326.78" cy="493.91" r="1.1" fill="#bebebe"/>
<circle cx="317.02" cy="495.56" r="1.1" fill="#bebebe"/>
<circle cx="322.25" cy="495.35" r="1.1" fill="#bebebe"/>
<circle cx="324.84" cy="495.53" r="1.1" fill="#bebebe"/>
<circle cx="313.39" cy="497.37" r="1.1" fill="#bebebe"/>
<circle cx="315.95" cy="497.53" r="1.1" fill="#bebebe"/>
<circle cx="321.41" cy="496.87" r="1.1" fill="#bebebe"/>
<circle cx="327.24" cy="496.67" r="1.1" fill="#bebebe"/>
<circle cx="317.86" cy="498.38" r="1.1" fill="#bebebe"/>
<circle cx="322.40" cy="498.77" r="1.1" fill="#bebebe"/>
<circle cx="325.77" cy="498.81" r="1.1" fill="#bebebe"/>
<circle cx="327.61" cy="498.04" r="1.1" fill="#bebebe"/>
<circle cx="219.07" cy="481.11" r="1.1" fill="#bebebe"/>
<circle cx="219.01" cy="482.05" r="1.1" fill="#bebebe"/>
<circle cx="219.01" cy="483.46" r="1.1" fill="#bebebe"/>
<circle cx="220.11" cy="481.39" r="1.1" fill="#bebebe"/>
<circle cx="222.28" cy="482.36" r="1.1" fill="#bebebe"/>
<circle cx="221.29" cy="483.92" r="1.1" fill="#bebebe"/>
<circle cx="222.52" cy="480.01" r="1.1" fill="#bebebe"/>
<circle cx="222.49" cy="481.69" r="1.1" fill="#bebebe"/>
<circle cx="223.46" cy="483.10" r="1.1" fill="#bebebe"/>
<circle cx="223.05" cy="484.62" r="1.1" fill="#bebebe"/>
<circle cx="224.13" cy="480.90" r="1.1" fill="#bebebe"/>
<circle cx="225.43" cy="479.98" r="1.1" fill="#bebebe"/>
<circle cx="226.07" cy="481.46" r="1.1" fill="#bebebe"/>
<circle cx="226.30" cy="484.70" r="1.1" fill="#bebebe"/>
<circle cx="226.75" cy="480.65" r="1.1" fill="#bebebe"/>
<circle cx="227.68" cy="481.39" r="1.1" fill="#bebebe"/>
<circle cx="227.26" cy="483.19" r="1.1" fill="#bebebe"/>
<circle cx="226.60" cy="484.01" r="1.1" fill="#bebebe"/>
<circle cx="228.15" cy="482.31" r="1.1" fill="#bebebe"/>
<circle cx="228.81" cy="483.75" r="1.1" fill="#bebebe"/>
<circle cx="229.74" cy="479.64" r="1.1" fill="#bebebe"/>
<circle cx="229.36" cy="481.53" r="1.1" fill="#bebebe"/>
<circle cx="229.70" cy="482.37" r="1.1" fill="#bebebe"/>
<circle cx="230.37" cy="484.43" r="1.1" fill="#bebebe"/>
<circle cx="230.26" cy="485.06" r="1.1" fill="#bebebe"/>
<circle cx="231.58" cy="480.15" r="1.1" fill="#bebebe"/>
<circle cx="231.74" cy="480.98" r="1.1" fill="#bebebe"/>
<circle cx="231.48" cy="482.47" r="1.1" fill="#bebebe"/>
<circle cx="230.64" cy="483.54" r="1.1" fill="#bebebe"/>
<circle cx="230.84" cy="485.50" r="1.1" fill="#bebebe"/>
<circle cx="232.44" cy="480.50" r="1.1" fill="#bebebe"/>
<circle cx="232.59" cy="481.74" r="1.1" fill="#bebebe"/>
<circle cx="232.08" cy="483.14" r="1.1" fill="#bebebe"/>
<circle cx="232.13" cy="485.64" r="1.1" fill="#bebebe"/>
<circle cx="234.39" cy="481.73" r="1.1" fill="#bebebe"/>
<circle cx="233.76" cy="482.15" r="1.1" fill="#bebebe"/>
<circle cx="234.41" cy="483.66" r="1.1" fill="#bebebe"/>
<circle cx="233.56" cy="485.71" r="1.1" fill="#bebebe"/>
<circle cx="234.95" cy="479.51" r="1.1" fill="#bebebe"/>
<circle cx="234.68" cy="480.92" r="1.1" fill="#bebebe"/>
<circle cx="235.62" cy="482.73" r="1.1" fill="#bebebe"/>
<circle cx="235.70" cy="483.59" r="1.1" fill="#bebebe"/>
<circle cx="234.92" cy="485.23" r="1.1" fill="#bebebe"/>
<circle cx="236.16" cy="479.71" r="1.1" fill="#bebebe"/>
<circle cx="236.11" cy="481.05" r="1.1" fill="#bebebe"/>
<circle cx="236.78" cy="485.37" r="1.1" fill="#bebebe"/>
<circle cx="237.34" cy="479.26" r="1.1" fill="#bebebe"/>
<circle cx="238.46" cy="481.97" r="1.1" fill="#bebebe"/>
<circle cx="237.88" cy="484.17" r="1.1" fill="#bebebe"/>
<circle cx="238.50" cy="484.73" r="1.1" fill="#bebebe"/>
<circle cx="238.18" cy="487.07" r="1.1" fill="#bebebe"/>
<circle cx="239.49" cy="480.17" r="1.1" fill="#bebebe"/>
<circle cx="239.47" cy="483.00" r="1.1" fill="#bebebe"/>
<circle cx="239.60" cy="485.65" r="1.1" fill="#bebebe"/>
<circle cx="239.40" cy="486.42" r="1.1" fill="#bebebe"/>
<circle cx="240.73" cy="479.28" r="1.1" fill="#bebebe"/>
<circle cx="241.19" cy="481.59" r="1.1" fill="#bebebe"/>
<circle cx="240.47" cy="482.77" r="1.1" fill="#bebebe"/>
<circle cx="240.53" cy="484.24" r="1.1" fill="#bebebe"/>
<circle cx="240.90" cy="484.62" r="1.1" fill="#bebebe"/>
<circle cx="240.58" cy="486.21" r="1.1" fill="#bebebe"/>
<circle cx="241.95" cy="479.90" r="1.1" fill="#bebebe"/>
<circle cx="241.36" cy="482.22" r="1.1" fill="#bebebe"/>
<circle cx="241.59" cy="483.41" r="1.1" fill="#bebebe"/>
<circle cx="241.88" cy="486.98" r="1.1" fill="#bebebe"/>
<circle cx="243.50" cy="479.37" r="1.1" fill="#bebebe"/>
<circle cx="243.67" cy="481.58" r="1.1" fill="#bebebe"/>
<circle cx="243.40" cy="483.56" r="1.1" fill="#bebebe"/>
<circle cx="243.30" cy="485.54" r="1.1" fill="#bebebe"/>
<circle cx="245.19" cy="479.44" r="1.1" fill="#bebebe"/>
<circle cx="244.59" cy="480.79" r="1.1" fill="#bebebe"/>
<circle cx="244.55" cy="482.56" r="1.1" fill="#bebebe"/>
<circle cx="244.43" cy="484.16" r="1.1" fill="#bebebe"/>
<circle cx="244.14" cy="485.89" r="1.1" fill="#bebebe"/>
<circle cx="246.25" cy="481.11" r="1.1" fill="#bebebe"/>
<circle cx="246.35" cy="481.80" r="1.1" fill="#bebebe"/>
<circle cx="245.95" cy="483.16" r="1.1" fill="#bebebe"/>
<circle cx="245.68" cy="484.65" r="1.1" fill="#bebebe"/>
<circle cx="246.16" cy="486.37" r="1.1" fill="#bebebe"/>
<circle cx="246.19" cy="488.15" r="1.1" fill="#bebebe"/>
<circle cx="246.99" cy="480.97" r="1.1" fill="#bebebe"/>
<circle cx="246.76" cy="482.32" r="1.1" fill="#bebebe"/>
<circle cx="246.96" cy="483.43" r="1.1" fill="#bebebe"/>
<circle cx="247.59" cy="485.08" r="1.1" fill="#bebebe"/>
<circle cx="247.66" cy="486.28" r="1.1" fill="#bebebe"/>
<circle cx="247.84" cy="487.26" r="1.1" fill="#bebebe"/>
<circle cx="248.26" cy="480.92" r="1.1" fill="#bebebe"/>
<circle cx="249.19" cy="482.18" r="1.1" fill="#bebebe"/>
<circle cx="249.16" cy="484.03" r="1.1" fill="#bebebe"/>
<circle cx="248.88" cy="486.02" r="1.1" fill="#bebebe"/>
<circle cx="249.08" cy="487.90" r="1.1" fill="#bebebe"/>
<circle cx="249.71" cy="480.08" r="1.1" fill="#bebebe"/>
<circle cx="250.40" cy="483.43" r="1.1" fill="#bebebe"/>
<circle cx="249.55" cy="487.63" r="1.1" fill="#bebebe"/>
<circle cx="251.72" cy="479.58" r="1.1" fill="#bebebe"/>
<circle cx="251.77" cy="480.43" r="1.1" fill="#bebebe"/>
<circle cx="251.01" cy="482.10" r="1.1" fill="#bebebe"/>
<circle cx="250.97" cy="483.23" r="1.1" fill="#bebebe"/>
<circle cx="251.67" cy="485.41" r="1.1" fill="#bebebe"/>
<circle cx="251.93" cy="486.34" r="1.1" fill="#bebebe"/>
<circle cx="252.42" cy="479.63" r="1.1" fill="#bebebe"/>
<circle cx="253.02" cy="481.12" r="1.1" fill="#bebebe"/>
<circle cx="253.16" cy="482.37" r="1.1" fill="#bebebe"/>
<circle cx="252.61" cy="484.06" r="1.1" fill="#bebebe"/>
<circle cx="253.17" cy="486.91" r="1.1" fill="#bebebe"/>
<circle cx="252.84" cy="487.34" r="1.1" fill="#bebebe"/>
<circle cx="254.10" cy="479.73" r="1.1" fill="#bebebe"/>
<circle cx="254.66" cy="480.97" r="1.1" fill="#bebebe"/>
<circle cx="254.46" cy="482.38" r="1.1" fill="#bebebe"/>
<circle cx="254.33" cy="483.13" r="1.1" fill="#bebebe"/>
<circle cx="254.00" cy="485.55" r="1.1" fill="#bebebe"/>
<circle cx="254.07" cy="487.25" r="1.1" fill="#bebebe"/>
<circle cx="255.83" cy="480.08" r="1.1" fill="#bebebe"/>
<circle cx="255.23" cy="480.58" r="1.1" fill="#bebebe"/>
<circle cx="255.96" cy="481.86" r="1.1" fill="#bebebe"/>
<circle cx="254.88" cy="483.28" r="1.1" fill="#bebebe"/>
<circle cx="255.67" cy="484.79" r="1.1" fill="#bebebe"/>
<circle cx="255.59" cy="485.88" r="1.1" fill="#bebebe"/>
<circle cx="255.00" cy="487.71" r="1.1" fill="#bebebe"/>
<circle cx="255.09" cy="489.09" r="1.1" fill="#bebebe"/>
<circle cx="256.65" cy="479.50" r="1.1" fill="#bebebe"/>
<circle cx="256.39" cy="480.60" r="1.1" fill="#bebebe"/>
<circle cx="256.97" cy="482.34" r="1.1" fill="#bebebe"/>
<circle cx="256.93" cy="484.08" r="1.1" fill="#bebebe"/>
<circle cx="257.09" cy="485.37" r="1.1" fill="#bebebe"/>
<circle cx="256.58" cy="488.21" r="1.1" fill="#bebebe"/>
<circle cx="257.40" cy="489.52" r="1.1" fill="#bebebe"/>
<circle cx="257.84" cy="479.87" r="1.1" fill="#bebebe"/>
<circle cx="257.67" cy="481.35" r="1.1" fill="#bebebe"/>
<circle cx="258.50" cy="481.85" r="1.1" fill="#bebebe"/>
<circle cx="258.37" cy="483.07" r="1.1" fill="#bebebe"/>
<circle cx="258.37" cy="485.49" r="1.1" fill="#bebebe"/>
<circle cx="258.16" cy="488.01" r="1.1" fill="#bebebe"/>
<circle cx="258.37" cy="488.68" r="1.1" fill="#bebebe"/>
<circle cx="259.03" cy="479.04" r="1.1" fill="#bebebe"/>
<circle cx="259.52" cy="481.03" r="1.1" fill="#bebebe"/>
<circle cx="259.12" cy="481.94" r="1.1" fill="#bebebe"/>
<circle cx="260.09" cy="484.16" r="1.1" fill="#bebebe"/>
<circle cx="258.97" cy="485.54" r="1.1" fill="#bebebe"/>
<circle cx="259.82" cy="486.14" r="1.1" fill="#bebebe"/>
<circle cx="259.52" cy="487.62" r="1.1" fill="#bebebe"/>
<circle cx="258.92" cy="489.29" r="1.1" fill="#bebebe"/>
<circle cx="260.47" cy="479.54" r="1.1" fill="#bebebe"/>
<circle cx="260.74" cy="480.58" r="1.1" fill="#bebebe"/>
<circle cx="260.87" cy="481.72" r="1.1" fill="#bebebe"/>
<circle cx="261.10" cy="485.43" r="1.1" fill="#bebebe"/>
<circle cx="260.74" cy="486.47" r="1.1" fill="#bebebe"/>
<circle cx="261.43" cy="488.07" r="1.1" fill="#bebebe"/>
<circle cx="261.34" cy="489.34" r="1.1" fill="#bebebe"/>
<circle cx="262.58" cy="479.49" r="1.1" fill="#bebebe"/>
<circle cx="262.43" cy="482.62" r="1.1" fill="#bebebe"/>
<circle cx="262.09" cy="483.92" r="1.1" fill="#bebebe"/>
<circle cx="262.01" cy="484.96" r="1.1" fill="#bebebe"/>
<circle cx="262.03" cy="486.52" r="1.1" fill="#bebebe"/>
<circle cx="261.88" cy="488.23" r="1.1" fill="#bebebe"/>
<circle cx="262.01" cy="489.24" r="1.1" fill="#bebebe"/>
<circle cx="263.59" cy="479.47" r="1.1" fill="#bebebe"/>
<circle cx="263.79" cy="482.61" r="1.1" fill="#bebebe"/>
<circle cx="263.69" cy="485.29" r="1.1" fill="#bebebe"/>
<circle cx="263.43" cy="485.81" r="1.1" fill="#bebebe"/>
<circle cx="263.40" cy="487.22" r="1.1" fill="#bebebe"/>
<circle cx="264.04" cy="489.11" r="1.1" fill="#bebebe"/>
<circle cx="265.46" cy="479.68" r="1.1" fill="#bebebe"/>
<circle cx="265.27" cy="481.79" r="1.1" fill="#bebebe"/>
<circle cx="265.21" cy="483.10" r="1.1" fill="#bebebe"/>
<circle cx="264.87" cy="485.95" r="1.1" fill="#bebebe"/>
<circle cx="265.03" cy="487.17" r="1.1" fill="#bebebe"/>
<circle cx="266.28" cy="479.72" r="1.1" fill="#bebebe"/>
<circle cx="265.99" cy="481.14" r="1.1" fill="#bebebe"/>
<circle cx="265.99" cy="482.56" r="1.1" fill="#bebebe"/>
<circle cx="265.67" cy="483.34" r="1.1" fill="#bebebe"/>
<circle cx="265.84" cy="485.31" r="1.1" fill="#bebebe"/>
<circle cx="266.73" cy="486.65" r="1.1" fill="#bebebe"/>
<circle cx="266.84" cy="488.23" r="1.1" fill="#bebebe"/>
<circle cx="266.74" cy="488.97" r="1.1" fill="#bebebe"/>
<circle cx="266.82" cy="490.09" r="1.1" fill="#bebebe"/>
<circle cx="268.12" cy="479.87" r="1.1" fill="#bebebe"/>
<circle cx="268.17" cy="481.33" r="1.1" fill="#bebebe"/>
<circle cx="267.14" cy="482.45" r="1.1" fill="#bebebe"/>
<circle cx="267.24" cy="483.11" r="1.1" fill="#bebebe"/>
<circle cx="267.15" cy="484.93" r="1.1" fill="#bebebe"/>
<circle cx="267.55" cy="486.06" r="1.1" fill="#bebebe"/>
<circle cx="267.50" cy="488.03" r="1.1" fill="#bebebe"/>
<circle cx="268.20" cy="489.59" r="1.1" fill="#bebebe"/>
<circle cx="267.29" cy="489.94" r="1.1" fill="#bebebe"/>
<circle cx="269.29" cy="479.75" r="1.1" fill="#bebebe"/>
<circle cx="268.68" cy="481.17" r="1.1" fill="#bebebe"/>
<circle cx="269.06" cy="482.46" r="1.1" fill="#bebebe"/>
<circle cx="268.58" cy="483.35" r="1.1" fill="#bebebe"/>
<circle cx="268.40" cy="487.17" r="1.1" fill="#bebebe"/>
<circle cx="268.86" cy="489.20" r="1.1" fill="#bebebe"/>
<circle cx="269.00" cy="489.89" r="1.1" fill="#bebebe"/>
<circle cx="270.51" cy="479.66" r="1.1" fill="#bebebe"/>
<circle cx="270.15" cy="480.92" r="1.1" fill="#bebebe"/>
<circle cx="270.11" cy="482.59" r="1.1" fill="#bebebe"/>
<circle cx="269.79" cy="483.19" r="1.1" fill="#bebebe"/>
<circle cx="270.45" cy="485.32" r="1.1" fill="#bebebe"/>
<circle cx="270.21" cy="486.06" r="1.1" fill="#bebebe"/>
<circle cx="270.14" cy="487.88" r="1.1" fill="#bebebe"/>
<circle cx="270.36" cy="490.70" r="1.1" fill="#bebebe"/>
<circle cx="271.49" cy="480.47" r="1.1" fill="#bebebe"/>
<circle cx="271.14" cy="481.80" r="1.1" fill="#bebebe"/>
<circle cx="271.63" cy="483.87" r="1.1" fill="#bebebe"/>
<circle cx="271.98" cy="484.49" r="1.1" fill="#bebebe"/>
<circle cx="271.84" cy="485.85" r="1.1" fill="#bebebe"/>
<circle cx="271.92" cy="487.93" r="1.1" fill="#bebebe"/>
<circle cx="271.22" cy="488.88" r="1.1" fill="#bebebe"/>
<circle cx="271.49" cy="489.94" r="1.1" fill="#bebebe"/>
<circle cx="273.08" cy="480.10" r="1.1" fill="#bebebe"/>
<circle cx="273.36" cy="483.42" r="1.1" fill="#bebebe"/>
<circle cx="272.88" cy="485.52" r="1.1" fill="#bebebe"/>
<circle cx="272.70" cy="486.18" r="1.1" fill="#bebebe"/>
<circle cx="272.84" cy="487.57" r="1.1" fill="#bebebe"/>
<circle cx="272.63" cy="489.13" r="1.1" fill="#bebebe"/>
<circle cx="273.05" cy="490.80" r="1.1" fill="#bebebe"/>
<circle cx="273.96" cy="479.91" r="1.1" fill="#bebebe"/>
<circle cx="274.09" cy="480.38" r="1.1" fill="#bebebe"/>
<circle cx="274.40" cy="482.38" r="1.1" fill="#bebebe"/>
<circle cx="274.72" cy="484.48" r="1.1" fill="#bebebe"/>
<circle cx="274.70" cy="485.85" r="1.1" fill="#bebebe"/>
<circle cx="274.63" cy="488.18" r="1.1" fill="#bebebe"/>
<circle cx="274.51" cy="488.62" r="1.1" fill="#bebebe"/>
<circle cx="274.53" cy="490.09" r="1.1" fill="#bebebe"/>
<circle cx="276.02" cy="479.63" r="1.1" fill="#bebebe"/>
<circle cx="275.57" cy="480.76" r="1.1" fill="#bebebe"/>
<circle cx="275.69" cy="483.69" r="1.1" fill="#bebebe"/>
<circle cx="275.95" cy="485.50" r="1.1" fill="#bebebe"/>
<circle cx="276.09" cy="486.55" r="1.1" fill="#bebebe"/>
<circle cx="276.07" cy="488.10" r="1.1" fill="#bebebe"/>
<circle cx="276.25" cy="489.22" r="1.1" fill="#bebebe"/>
<circle cx="275.95" cy="490.76" r="1.1" fill="#bebebe"/>
<circle cx="276.95" cy="479.18" r="1.1" fill="#bebebe"/>
<circle cx="277.64" cy="480.80" r="1.1" fill="#bebebe"/>
<circle cx="276.70" cy="482.21" r="1.1" fill="#bebebe"/>
<circle cx="277.61" cy="483.12" r="1.1" fill="#bebebe"/>
<circle cx="276.59" cy="485.18" r="1.1" fill="#bebebe"/>
<circle cx="276.67" cy="485.82" r="1.1" fill="#bebebe"/>
<circle cx="277.15" cy="488.19" r="1.1" fill="#bebebe"/>
<circle cx="276.58" cy="488.67" r="1.1" fill="#bebebe"/>
<circle cx="276.73" cy="490.66" r="1.1" fill="#bebebe"/>
<circle cx="276.72" cy="491.37" r="1.1" fill="#bebebe"/>
<circle cx="278.01" cy="479.91" r="1.1" fill="#bebebe"/>
<circle cx="278.46" cy="481.33" r="1.1" fill="#bebebe"/>
<circle cx="278.11" cy="482.76" r="1.1" fill="#bebebe"/>
<circle cx="278.46" cy="485.55" r="1.1" fill="#bebebe"/>
<circle cx="278.07" cy="485.81" r="1.1" fill="#bebebe"/>
<circle cx="278.26" cy="489.08" r="1.1" fill="#bebebe"/>
<circle cx="278.13" cy="490.99" r="1.1" fill="#bebebe"/>
<circle cx="278.09" cy="491.16" r="1.1" fill="#bebebe"/>
<circle cx="279.60" cy="479.96" r="1.1" fill="#bebebe"/>
<circle cx="279.88" cy="480.54" r="1.1" fill="#bebebe"/>
<circle cx="279.54" cy="482.01" r="1.1" fill="#bebebe"/>
<circle cx="279.77" cy="483.81" r="1.1" fill="#bebebe"/>
<circle cx="279.79" cy="485.93" r="1.1" fill="#bebebe"/>
<circle cx="279.15" cy="488.09" r="1.1" fill="#bebebe"/>
<circle cx="280.14" cy="488.55" r="1.1" fill="#bebebe"/>
<circle cx="280.01" cy="489.92" r="1.1" fill="#bebebe"/>
<circle cx="279.71" cy="492.30" r="1.1" fill="#bebebe"/>
<circle cx="281.53" cy="479.36" r="1.1" fill="#bebebe"/>
<circle cx="281.00" cy="481.45" r="1.1" fill="#bebebe"/>
<circle cx="281.49" cy="481.95" r="1.1" fill="#bebebe"/>
<circle cx="281.13" cy="483.24" r="1.1" fill="#bebebe"/>
<circle cx="280.87" cy="484.77" r="1.1" fill="#bebebe"/>
<circle cx="280.87" cy="486.31" r="1.1" fill="#bebebe"/>
<circle cx="280.93" cy="487.92" r="1.1" fill="#bebebe"/>
<circle cx="280.97" cy="489.00" r="1.1" fill="#bebebe"/>
<circle cx="281.28" cy="491.16" r="1.1" fill="#bebebe"/>
<circle cx="282.70" cy="479.28" r="1.1" fill="#bebebe"/>
<circle cx="282.40" cy="480.36" r="1.1" fill="#bebebe"/>
<circle cx="282.10" cy="483.79" r="1.1" fill="#bebebe"/>
<circle cx="282.30" cy="485.05" r="1.1" fill="#bebebe"/>
<circle cx="282.25" cy="486.22" r="1.1" fill="#bebebe"/>
<circle cx="282.16" cy="487.34" r="1.1" fill="#bebebe"/>
<circle cx="282.25" cy="489.58" r="1.1" fill="#bebebe"/>
<circle cx="282.72" cy="490.20" r="1.1" fill="#bebebe"/>
<circle cx="281.96" cy="491.32" r="1.1" fill="#bebebe"/>
<circle cx="284.01" cy="479.85" r="1.1" fill="#bebebe"/>
<circle cx="283.68" cy="481.35" r="1.1" fill="#bebebe"/>
<circle cx="283.31" cy="481.97" r="1.1" fill="#bebebe"/>
<circle cx="283.35" cy="483.54" r="1.1" fill="#bebebe"/>
<circle cx="284.30" cy="484.91" r="1.1" fill="#bebebe"/>
<circle cx="283.98" cy="486.67" r="1.1" fill="#bebebe"/>
<circle cx="283.66" cy="487.50" r="1.1" fill="#bebebe"/>
<circle cx="283.22" cy="488.93" r="1.1" fill="#bebebe"/>
<circle cx="284.38" cy="490.75" r="1.1" fill="#bebebe"/>
<circle cx="283.93" cy="491.17" r="1.1" fill="#bebebe"/>
<circle cx="284.96" cy="479.78" r="1.1" fill="#bebebe"/>
<circle cx="285.00" cy="480.96" r="1.1" fill="#bebebe"/>
<circle cx="285.54" cy="482.43" r="1.1" fill="#bebebe"/>
<circle cx="285.47" cy="484.13" r="1.1" fill="#bebebe"/>
<circle cx="284.97" cy="485.00" r="1.1" fill="#bebebe"/>
<circle cx="285.41" cy="486.93" r="1.1" fill="#bebebe"/>
<circle cx="285.41" cy="488.10" r="1.1" fill="#bebebe"/>
<circle cx="285.68" cy="489.20" r="1.1" fill="#bebebe"/>
<circle cx="284.65" cy="490.09" r="1.1" fill="#bebebe"/>
<circle cx="285.39" cy="491.55" r="1.1" fill="#bebebe"/>
<circle cx="286.46" cy="480.50" r="1.1" fill="#bebebe"/>
<circle cx="286.98" cy="483.70" r="1.1" fill="#bebebe"/>
<circle cx="286.57" cy="484.72" r="1.1" fill="#bebebe"/>
<circle cx="287.09" cy="486.73" r="1.1" fill="#bebebe"/>
<circle cx="286.05" cy="488.09" r="1.1" fill="#bebebe"/>
<circle cx="286.98" cy="488.74" r="1.1" fill="#bebebe"/>
<circle cx="286.90" cy="490.02" r="1.1" fill="#bebebe"/>
<circle cx="285.99" cy="491.19" r="1.1" fill="#bebebe"/>
<circle cx="288.43" cy="480.13" r="1.1" fill="#bebebe"/>
<circle cx="287.62" cy="481.16" r="1.1" fill="#bebebe"/>
<circle cx="287.71" cy="482.41" r="1.1" fill="#bebebe"/>
<circle cx="287.27" cy="483.29" r="1.1" fill="#bebebe"/>
<circle cx="287.42" cy="484.86" r="1.1" fill="#bebebe"/>
<circle cx="287.46" cy="486.37" r="1.1" fill="#bebebe"/>
<circle cx="287.93" cy="487.50" r="1.1" fill="#bebebe"/>
<circle cx="287.30" cy="489.26" r="1.1" fill="#bebebe"/>
<circle cx="288.40" cy="490.52" r="1.1" fill="#bebebe"/>
<circle cx="287.74" cy="491.90" r="1.1" fill="#bebebe"/>
<circle cx="289.51" cy="479.90" r="1.1" fill="#bebebe"/>
<circle cx="289.79" cy="481.36" r="1.1" fill="#bebebe"/>
<circle cx="289.09" cy="482.22" r="1.1" fill="#bebebe"/>
<circle cx="289.69" cy="483.68" r="1.1" fill="#bebebe"/>
<circle cx="289.12" cy="485.49" r="1.1" fill="#bebebe"/>
<circle cx="288.67" cy="486.62" r="1.1" fill="#bebebe"/>
<circle cx="289.48" cy="487.82" r="1.1" fill="#bebebe"/>
<circle cx="288.97" cy="489.16" r="1.1" fill="#bebebe"/>
<circle cx="288.75" cy="490.34" r="1.1" fill="#bebebe"/>
<circle cx="289.08" cy="491.21" r="1.1" fill="#bebebe"/>
<circle cx="290.58" cy="479.29" r="1.1" fill="#bebebe"/>
<circle cx="290.42" cy="480.63" r="1.1" fill="#bebebe"/>
<circle cx="291.04" cy="482.86" r="1.1" fill="#bebebe"/>
<circle cx="290.99" cy="483.56" r="1.1" fill="#bebebe"/>
<circle cx="290.22" cy="485.30" r="1.1" fill="#bebebe"/>
<circle cx="291.03" cy="485.87" r="1.1" fill="#bebebe"/>
<circle cx="290.10" cy="487.75" r="1.1" fill="#bebebe"/>
<circle cx="290.24" cy="490.16" r="1.1" fill="#bebebe"/>
<circle cx="290.03" cy="492.22" r="1.1" fill="#bebebe"/>
<circle cx="290.43" cy="492.93" r="1.1" fill="#bebebe"/>
<circle cx="291.36" cy="479.04" r="1.1" fill="#bebebe"/>
<circle cx="291.67" cy="480.95" r="1.1" fill="#bebebe"/>
<circle cx="291.55" cy="484.75" r="1.1" fill="#bebebe"/>
<circle cx="291.53" cy="488.11" r="1.1" fill="#bebebe"/>
<circle cx="291.87" cy="488.66" r="1.1" fill="#bebebe"/>
<circle cx="292.49" cy="490.04" r="1.1" fill="#bebebe"/>
<circle cx="291.53" cy="492.21" r="1.1" fill="#bebebe"/>
<circle cx="291.43" cy="493.37" r="1.1" fill="#bebebe"/>
<circle cx="293.73" cy="480.03" r="1.1" fill="#bebebe"/>
<circle cx="292.81" cy="481.17" r="1.1" fill="#bebebe"/>
<circle cx="292.74" cy="483.31" r="1.1" fill="#bebebe"/>
<circle cx="293.50" cy="484.62" r="1.1" fill="#bebebe"/>
<circle cx="292.93" cy="486.54" r="1.1" fill="#bebebe"/>
<circle cx="293.10" cy="487.88" r="1.1" fill="#bebebe"/>
<circle cx="293.36" cy="488.71" r="1.1" fill="#bebebe"/>
<circle cx="293.76" cy="490.59" r="1.1" fill="#bebebe"/>
<circle cx="293.42" cy="491.25" r="1.1" fill="#bebebe"/>
<circle cx="294.63" cy="479.56" r="1.1" fill="#bebebe"/>
<circle cx="294.72" cy="480.61" r="1.1" fill="#bebebe"/>
<circle cx="294.96" cy="481.72" r="1.1" fill="#bebebe"/>
<circle cx="294.91" cy="483.27" r="1.1" fill="#bebebe"/>
<circle cx="294.66" cy="484.54" r="1.1" fill="#bebebe"/>
<circle cx="295.19" cy="485.71" r="1.1" fill="#bebebe"/>
<circle cx="294.90" cy="487.48" r="1.1" fill="#bebebe"/>
<circle cx="294.22" cy="490.39" r="1.1" fill="#bebebe"/>
<circle cx="294.43" cy="491.86" r="1.1" fill="#bebebe"/>
<circle cx="294.62" cy="493.03" r="1.1" fill="#bebebe"/>
<circle cx="296.17" cy="479.48" r="1.1" fill="#bebebe"/>
<circle cx="296.29" cy="481.75" r="1.1" fill="#bebebe"/>
<circle cx="295.63" cy="483.43" r="1.1" fill="#bebebe"/>
<circle cx="296.29" cy="485.20" r="1.1" fill="#bebebe"/>
<circle cx="295.94" cy="485.87" r="1.1" fill="#bebebe"/>
<circle cx="295.95" cy="486.99" r="1.1" fill="#bebebe"/>
<circle cx="296.21" cy="488.99" r="1.1" fill="#bebebe"/>
<circle cx="295.57" cy="489.83" r="1.1" fill="#bebebe"/>
<circle cx="295.95" cy="491.52" r="1.1" fill="#bebebe"/>
<circle cx="295.67" cy="493.31" r="1.1" fill="#bebebe"/>
<circle cx="297.79" cy="479.47" r="1.1" fill="#bebebe"/>
<circle cx="297.65" cy="480.42" r="1.1" fill="#bebebe"/>
<circle cx="297.07" cy="481.54" r="1.1" fill="#bebebe"/>
<circle cx="297.45" cy="483.47" r="1.1" fill="#bebebe"/>
<circle cx="297.41" cy="484.29" r="1.1" fill="#bebebe"/>
<circle cx="296.91" cy="485.84" r="1.1" fill="#bebebe"/>
<circle cx="297.53" cy="487.88" r="1.1" fill="#bebebe"/>
<circle cx="296.77" cy="488.73" r="1.1" fill="#bebebe"/>
<circle cx="296.96" cy="490.75" r="1.1" fill="#bebebe"/>
<circle cx="297.29" cy="491.85" r="1.1" fill="#bebebe"/>
<circle cx="298.60" cy="479.61" r="1.1" fill="#bebebe"/>
<circle cx="298.34" cy="481.14" r="1.1" fill="#bebebe"/>
<circle cx="298.52" cy="481.78" r="1.1" fill="#bebebe"/>
<circle cx="298.14" cy="482.81" r="1.1" fill="#bebebe"/>
<circle cx="298.93" cy="485.74" r="1.1" fill="#bebebe"/>
<circle cx="298.71" cy="487.11" r="1.1" fill="#bebebe"/>
<circle cx="299.17" cy="488.60" r="1.1" fill="#bebebe"/>
<circle cx="299.23" cy="490.25" r="1.1" fill="#bebebe"/>
<circle cx="298.53" cy="491.65" r="1.1" fill="#bebebe"/>
<circle cx="299.81" cy="479.48" r="1.1" fill="#bebebe"/>
<circle cx="300.11" cy="481.06" r="1.1" fill="#bebebe"/>
<circle cx="299.87" cy="482.36" r="1.1" fill="#bebebe"/>
<circle cx="300.34" cy="482.96" r="1.1" fill="#bebebe"/>
<circle cx="299.62" cy="484.71" r="1.1" fill="#bebebe"/>
<circle cx="299.64" cy="485.66" r="1.1" fill="#bebebe"/>
<circle cx="299.77" cy="487.29" r="1.1" fill="#bebebe"/>
<circle cx="300.44" cy="489.70" r="1.1" fill="#bebebe"/>
<circle cx="299.49" cy="491.63" r="1.1" fill="#bebebe"/>
<circle cx="301.08" cy="478.60" r="1.1" fill="#bebebe"/>
<circle cx="301.06" cy="480.40" r="1.1" fill="#bebebe"/>
<circle cx="301.07" cy="483.07" r="1.1" fill="#bebebe"/>
<circle cx="301.87" cy="484.41" r="1.1" fill="#bebebe"/>
<circle cx="301.62" cy="486.42" r="1.1" fill="#bebebe"/>
<circle cx="301.14" cy="487.14" r="1.1" fill="#bebebe"/>
<circle cx="301.81" cy="488.42" r="1.1" fill="#bebebe"/>
<circle cx="301.37" cy="489.45" r="1.1" fill="#bebebe"/>
<circle cx="301.04" cy="490.78" r="1.1" fill="#bebebe"/>
<circle cx="302.81" cy="478.55" r="1.1" fill="#bebebe"/>
<circle cx="302.61" cy="480.52" r="1.1" fill="#bebebe"/>
<circle cx="302.95" cy="481.53" r="1.1" fill="#bebebe"/>
<circle cx="302.90" cy="482.74" r="1.1" fill="#bebebe"/>
<circle cx="302.44" cy="484.77" r="1.1" fill="#bebebe"/>
<circle cx="302.56" cy="486.30" r="1.1" fill="#bebebe"/>
<circle cx="302.45" cy="487.03" r="1.1" fill="#bebebe"/>
<circle cx="302.15" cy="487.99" r="1.1" fill="#bebebe"/>
<circle cx="302.78" cy="490.29" r="1.1" fill="#bebebe"/>
<circle cx="304.25" cy="479.55" r="1.1" fill="#bebebe"/>
<circle cx="304.28" cy="480.60" r="1.1" fill="#bebebe"/>
<circle cx="303.73" cy="483.26" r="1.1" fill="#bebebe"/>
<circle cx="303.96" cy="484.32" r="1.1" fill="#bebebe"/>
<circle cx="303.91" cy="485.59" r="1.1" fill="#bebebe"/>
<circle cx="303.79" cy="486.74" r="1.1" fill="#bebebe"/>
<circle cx="304.02" cy="488.10" r="1.1" fill="#bebebe"/>
<circle cx="303.74" cy="489.36" r="1.1" fill="#bebebe"/>
<circle cx="303.96" cy="490.78" r="1.1" fill="#bebebe"/>
<circle cx="305.64" cy="479.04" r="1.1" fill="#bebebe"/>
<circle cx="304.83" cy="480.20" r="1.1" fill="#bebebe"/>
<circle cx="304.88" cy="481.56" r="1.1" fill="#bebebe"/>
<circle cx="305.39" cy="483.13" r="1.1" fill="#bebebe"/>
<circle cx="305.19" cy="484.08" r="1.1" fill="#bebebe"/>
<circle cx="305.22" cy="486.20" r="1.1" fill="#bebebe"/>
<circle cx="305.11" cy="487.28" r="1.1" fill="#bebebe"/>
<circle cx="305.36" cy="488.57" r="1.1" fill="#bebebe"/>
<circle cx="305.49" cy="491.66" r="1.1" fill="#bebebe"/>
<circle cx="306.90" cy="479.05" r="1.1" fill="#bebebe"/>
<circle cx="306.65" cy="479.98" r="1.1" fill="#bebebe"/>
<circle cx="307.21" cy="481.46" r="1.1" fill="#bebebe"/>
<circle cx="306.20" cy="482.52" r="1.1" fill="#bebebe"/>
<circle cx="306.52" cy="484.14" r="1.1" fill="#bebebe"/>
<circle cx="306.38" cy="486.68" r="1.1" fill="#bebebe"/>
<circle cx="306.43" cy="487.75" r="1.1" fill="#bebebe"/>
<circle cx="306.62" cy="489.39" r="1.1" fill="#bebebe"/>
<circle cx="308.28" cy="478.89" r="1.1" fill="#bebebe"/>
<circle cx="308.17" cy="480.58" r="1.1" fill="#bebebe"/>
<circle cx="307.92" cy="483.34" r="1.1" fill="#bebebe"/>
<circle cx="308.36" cy="484.46" r="1.1" fill="#bebebe"/>
<circle cx="308.66" cy="485.97" r="1.1" fill="#bebebe"/>
<circle cx="308.25" cy="486.92" r="1.1" fill="#bebebe"/>
<circle cx="307.94" cy="488.02" r="1.1" fill="#bebebe"/>
<circle cx="308.14" cy="489.31" r="1.1" fill="#bebebe"/>
<circle cx="309.24" cy="478.37" r="1.1" fill="#bebebe"/>
<circle cx="309.00" cy="479.58" r="1.1" fill="#bebebe"/>
<circle cx="308.97" cy="481.70" r="1.1" fill="#bebebe"/>
<circle cx="309.39" cy="483.13" r="1.1" fill="#bebebe"/>
<circle cx="309.05" cy="484.59" r="1.1" fill="#bebebe"/>
<circle cx="308.91" cy="485.21" r="1.1" fill="#bebebe"/>
<circle cx="309.81" cy="486.72" r="1.1" fill="#bebebe"/>
<circle cx="309.15" cy="488.46" r="1.1" fill="#bebebe"/>
<circle cx="310.60" cy="478.99" r="1.1" fill="#bebebe"/>
<circle cx="311.19" cy="480.11" r="1.1" fill="#bebebe"/>
<circle cx="311.05" cy="481.53" r="1.1" fill="#bebebe"/>
<circle cx="311.16" cy="482.28" r="1.1" fill="#bebebe"/>
<circle cx="311.00" cy="483.76" r="1.1" fill="#bebebe"/>
<circle cx="310.22" cy="485.53" r="1.1" fill="#bebebe"/>
<circle cx="312.38" cy="478.51" r="1.1" fill="#bebebe"/>
<circle cx="312.03" cy="480.47" r="1.1" fill="#bebebe"/>
<circle cx="312.41" cy="482.19" r="1.1" fill="#bebebe"/>
<circle cx="311.89" cy="484.28" r="1.1" fill="#bebebe"/>
<circle cx="311.95" cy="486.13" r="1.1" fill="#bebebe"/>
<circle cx="313.48" cy="478.38" r="1.1" fill="#bebebe"/>
<circle cx="313.86" cy="480.28" r="1.1" fill="#bebebe"/>
<circle cx="313.37" cy="481.37" r="1.1" fill="#bebebe"/>
<circle cx="314.08" cy="482.44" r="1.1" fill="#bebebe"/>
<circle cx="313.56" cy="484.29" r="1.1" fill="#bebebe"/>
<circle cx="313.11" cy="484.81" r="1.1" fill="#bebebe"/>
<circle cx="321.90" cy="419.50" r="1.1" fill="#bebebe"/>
<circle cx="321.90" cy="423.10" r="1.1" fill="#bebebe"/>
<circle cx="322.00" cy="427.50" r="1.1" fill="#bebebe"/>
<circle cx="323.50" cy="429.50" r="1.1" fill="#bebebe"/>
<circle cx="321.50" cy="431.00" r="1.1" fill="#bebebe"/>
<circle cx="320.80" cy="411.70" r="1.1" fill="#bebebe"/>
<circle cx="320.80" cy="414.30" r="1.1" fill="#bebebe"/>
<circle cx="318.75" cy="413.20" r="1.1" fill="#bebebe"/>
<circle cx="233.80" cy="486.25" r="1.1" fill="#bebebe"/>
<circle cx="234.90" cy="489.60" r="1.1" fill="#bebebe"/>
<circle cx="243.20" cy="498.75" r="1.1" fill="#bebebe"/>
<circle cx="251.50" cy="501.50" r="1.1" fill="#bebebe"/>
<circle cx="257.80" cy="502.50" r="1.1" fill="#bebebe"/>
<circle cx="260.00" cy="503.50" r="1.1" fill="#bebebe"/>
<circle cx="263.00" cy="499.40" r="1.1" fill="#bebebe"/>
<circle cx="266.00" cy="501.00" r="1.1" fill="#bebebe"/>
<circle cx="262.00" cy="498.90" r="1.1" fill="#bebebe"/>
<circle cx="270.00" cy="495.20" r="1.1" fill="#bebebe"/>
<circle cx="275.60" cy="502.50" r="1.1" fill="#bebebe"/>
<circle cx="279.80" cy="494.70" r="1.1" fill="#bebebe"/>
<circle cx="280.80" cy="503.00" r="1.1" fill="#bebebe"/>
<circle cx="286.60" cy="496.80" r="1.1" fill="#bebebe"/>
<circle cx="291.25" cy="504.60" r="1.1" fill="#bebebe"/>
<circle cx="296.00" cy="495.70" r="1.1" fill="#bebebe"/>
<circle cx="295.00" cy="501.50" r="1.1" fill="#bebebe"/>
<circle cx="297.50" cy="503.50" r="1.1" fill="#bebebe"/>
<circle cx="300.70" cy="496.10" r="1.1" fill="#bebebe"/>
<circle cx="308.50" cy="502.40" r="1.1" fill="#bebebe"/>
<circle cx="298.00" cy="503.00" r="1.1" fill="#bebebe"/>
<circle cx="320.00" cy="501.90" r="1.1" fill="#bebebe"/>
<circle cx="317.90" cy="498.75" r="1.1" fill="#bebebe"/>
<circle cx="327.25" cy="512.80" r="1.1" fill="#bebebe"/>
<circle cx="320.50" cy="524.80" r="1.1" fill="#bebebe"/>
<circle cx="328.80" cy="487.80" r="1.1" fill="#bebebe"/>
<circle cx="337.40" cy="494.60" r="1.1" fill="#bebebe"/>
<circle cx="317.30" cy="377.70" r="1.1" fill="#bebebe"/>
<circle cx="321.40" cy="403.90" r="1.1" fill="#bebebe"/>
<circle cx="318.75" cy="413.20" r="1.1" fill="#bebebe"/>
<circle cx="316.10" cy="420.00" r="1.1" fill="#bebebe"/>
<line x1="314.6" y1="370.5" x2="314.6" y2="531.0" stroke="#4a4a4a" stroke-width="1.0" stroke-dasharray="2.9 2.25"/>
<line x1="326.6" y1="370.5" x2="326.6" y2="531.0" stroke="#4a4a4a" stroke-width="1.0" stroke-dasharray="2.9 2.25"/>
<line x1="214.0" y1="477.3" x2="356.0" y2="477.3" stroke="#4a4a4a" stroke-width="1.0" stroke-dasharray="2.9 2.25"/>
<circle cx="305.20" cy="408.50" r="1.1" fill="#22e022"/>
<circle cx="313.50" cy="427.80" r="1.1" fill="#22e022"/>
<circle cx="313.50" cy="433.00" r="1.1" fill="#22e022"/>
<circle cx="313.50" cy="435.00" r="1.1" fill="#22e022"/>
<circle cx="313.50" cy="436.70" r="1.1" fill="#22e022"/>
<circle cx="290.20" cy="476.70" r="1.1" fill="#22e022"/>
<circle cx="311.00" cy="453.00" r="1.1" fill="#22e022"/>
<circle cx="310.00" cy="457.00" r="1.1" fill="#22e022"/>
<circle cx="313.00" cy="462.00" r="1.1" fill="#22e022"/>
<circle cx="312.80" cy="462.92" r="1.1" fill="#22e022"/>
<circle cx="312.91" cy="471.00" r="1.1" fill="#22e022"/>
<circle cx="311.51" cy="461.53" r="1.1" fill="#22e022"/>
<circle cx="311.73" cy="460.80" r="1.1" fill="#22e022"/>
<circle cx="307.37" cy="471.95" r="1.1" fill="#22e022"/>
<circle cx="309.28" cy="468.09" r="1.1" fill="#22e022"/>
<circle cx="311.66" cy="463.60" r="1.1" fill="#22e022"/>
<circle cx="310.69" cy="473.92" r="1.1" fill="#22e022"/>
<circle cx="312.64" cy="458.27" r="1.1" fill="#22e022"/>
<circle cx="313.62" cy="460.79" r="1.1" fill="#22e022"/>
<circle cx="312.41" cy="473.39" r="1.1" fill="#22e022"/>
<circle cx="311.87" cy="473.70" r="1.1" fill="#22e022"/>
<circle cx="312.07" cy="476.04" r="1.1" fill="#22e022"/>
<circle cx="313.43" cy="462.88" r="1.1" fill="#22e022"/>
<circle cx="312.62" cy="467.25" r="1.1" fill="#22e022"/>
<circle cx="310.43" cy="468.72" r="1.1" fill="#22e022"/>
<circle cx="311.34" cy="464.92" r="1.1" fill="#22e022"/>
<circle cx="310.24" cy="463.96" r="1.1" fill="#22e022"/>
<circle cx="312.33" cy="473.57" r="1.1" fill="#22e022"/>
<circle cx="311.02" cy="476.73" r="1.1" fill="#22e022"/>
<circle cx="312.44" cy="468.53" r="1.1" fill="#22e022"/>
<circle cx="313.08" cy="460.56" r="1.1" fill="#22e022"/>
<circle cx="309.64" cy="466.42" r="1.1" fill="#22e022"/>
<circle cx="312.39" cy="461.85" r="1.1" fill="#22e022"/>
<circle cx="311.96" cy="462.81" r="1.1" fill="#22e022"/>
<circle cx="310.02" cy="469.50" r="1.1" fill="#22e022"/>
<circle cx="312.57" cy="460.48" r="1.1" fill="#22e022"/>
<circle cx="311.22" cy="462.47" r="1.1" fill="#22e022"/>
<circle cx="328.60" cy="433.00" r="1.1" fill="#f01010"/>
<circle cx="329.50" cy="432.60" r="1.1" fill="#f01010"/>
<circle cx="346.00" cy="407.40" r="1.1" fill="#f01010"/>
<circle cx="349.60" cy="462.80" r="1.1" fill="#f01010"/>
<circle cx="333.30" cy="448.10" r="1.1" fill="#f01010"/>
<circle cx="327.38" cy="456.99" r="1.1" fill="#f01010"/>
<circle cx="326.83" cy="465.54" r="1.1" fill="#f01010"/>
<circle cx="330.79" cy="457.69" r="1.1" fill="#f01010"/>
<circle cx="329.73" cy="473.99" r="1.1" fill="#f01010"/>
<circle cx="326.69" cy="450.25" r="1.1" fill="#f01010"/>
<circle cx="330.13" cy="471.14" r="1.1" fill="#f01010"/>
<circle cx="329.38" cy="450.79" r="1.1" fill="#f01010"/>
<circle cx="328.36" cy="472.05" r="1.1" fill="#f01010"/>
<circle cx="330.49" cy="470.10" r="1.1" fill="#f01010"/>
<circle cx="327.41" cy="471.61" r="1.1" fill="#f01010"/>
<circle cx="328.19" cy="467.50" r="1.1" fill="#f01010"/>
<circle cx="327.12" cy="475.14" r="1.1" fill="#f01010"/>
<circle cx="329.22" cy="467.68" r="1.1" fill="#f01010"/>
<circle cx="327.45" cy="464.52" r="1.1" fill="#f01010"/>
<circle cx="329.11" cy="463.74" r="1.1" fill="#f01010"/>
<circle cx="328.12" cy="467.83" r="1.1" fill="#f01010"/>
<circle cx="328.04" cy="454.86" r="1.1" fill="#f01010"/>
<circle cx="327.24" cy="466.52" r="1.1" fill="#f01010"/>
<circle cx="327.01" cy="452.77" r="1.1" fill="#f01010"/>
<circle cx="326.81" cy="465.31" r="1.1" fill="#f01010"/>
<circle cx="329.00" cy="462.30" r="1.1" fill="#f01010"/>
<circle cx="326.67" cy="459.19" r="1.1" fill="#f01010"/>
<rect x="214.0" y="370.5" width="142.0" height="160.5" fill="none" stroke="#d0d0d0" stroke-width="0.95"/>
<line x1="231.90" y1="531.0" x2="231.90" y2="532.3" stroke="#aaa" stroke-width="0.5"/>
<rect x="230.60" y="532.6" width="2.6" height="1.5" fill="#cfcfcf"/>
<line x1="261.55" y1="531.0" x2="261.55" y2="532.3" stroke="#aaa" stroke-width="0.5"/>
<rect x="260.25" y="532.6" width="2.6" height="1.5" fill="#cfcfcf"/>
<line x1="291.20" y1="531.0" x2="291.20" y2="532.3" stroke="#aaa" stroke-width="0.5"/>
<rect x="289.90" y="532.6" width="2.6" height="1.5" fill="#cfcfcf"/>
<line x1="320.85" y1="531.0" x2="320.85" y2="532.3" stroke="#aaa" stroke-width="0.5"/>
<rect x="319.55" y="532.6" width="2.6" height="1.5" fill="#cfcfcf"/>
<line x1="350.50" y1="531.0" x2="350.50" y2="532.3" stroke="#aaa" stroke-width="0.5"/>
<rect x="349.20" y="532.6" width="2.6" height="1.5" fill="#cfcfcf"/>
<line x1="212.6" y1="382.80" x2="214.0" y2="382.80" stroke="#aaa" stroke-width="0.5"/>
<rect x="210.00" y="382.05" width="2.4" height="1.5" fill="#cfcfcf"/>
<line x1="212.6" y1="430.00" x2="214.0" y2="430.00" stroke="#aaa" stroke-width="0.5"/>
<rect x="210.00" y="429.25" width="2.4" height="1.5" fill="#cfcfcf"/>
<line x1="212.6" y1="477.30" x2="214.0" y2="477.30" stroke="#aaa" stroke-width="0.5"/>
<rect x="210.00" y="476.55" width="2.4" height="1.5" fill="#cfcfcf"/>
<line x1="212.6" y1="524.70" x2="214.0" y2="524.70" stroke="#aaa" stroke-width="0.5"/>
<rect x="210.00" y="523.95" width="2.4" height="1.5" fill="#cfcfcf"/>
<text x="0" y="0" font-size="9.3" text-anchor="start" fill="#111" stroke="#111" stroke-width="0.25" transform="translate(206 363.9) scale(1.0 1)" >F</text>
<text x="0" y="0" font-size="6.2" text-anchor="middle" fill="#222" stroke="#222" stroke-width="0.15" transform="translate(289.25 543.8) scale(0.903 1)" >Log2FC</text>
<text x="0" y="0" font-size="6.3" text-anchor="middle" fill="#222" stroke="#222" stroke-width="0.15" transform="translate(208.4 444.35) scale(0.94 1) rotate(-90)" >VIP</text>
<circle cx="363.5" cy="448.6" r="1.3" fill="#22e022"/>
<text x="0" y="0" font-size="4.8" text-anchor="start" fill="#1a1a1a" stroke="#1a1a1a" stroke-width="0.15" transform="translate(368.8 450.3) scale(0.92 1)" >down</text>
<circle cx="363.5" cy="453.8" r="1.3" fill="#bebebe"/>
<text x="0" y="0" font-size="4.8" text-anchor="start" fill="#1a1a1a" stroke="#1a1a1a" stroke-width="0.15" transform="translate(368.8 455.5) scale(0.92 1)" >insig</text>
<circle cx="363.5" cy="459.0" r="1.3" fill="#f01010"/>
<text x="0" y="0" font-size="4.8" text-anchor="start" fill="#1a1a1a" stroke="#1a1a1a" stroke-width="0.15" transform="translate(368.8 460.7) scale(0.92 1)" >up</text>
</g>
</svg></body></html>
